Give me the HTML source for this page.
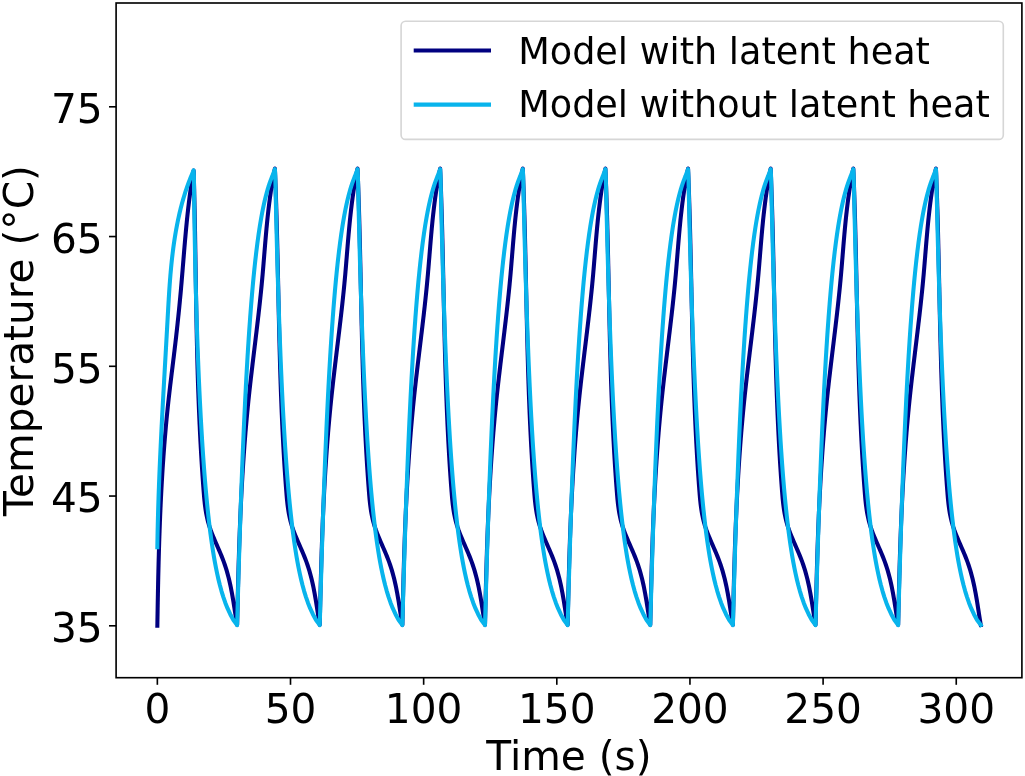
<!DOCTYPE html>
<html><head><meta charset="utf-8"><style>
html,body{margin:0;padding:0;background:#fff;}
body{width:1025px;height:776px;overflow:hidden;}
svg{display:block;}
text{font-family:"DejaVu Sans","Liberation Sans",sans-serif;fill:#000;}
.tk{font-size:40.65px;}
.lb{font-size:40.65px;}
.lg{font-size:36.6px;}
</style></head><body>
<svg width="1025" height="776" viewBox="0 0 1025 776">
<rect width="1025" height="776" fill="#fff"/>
<polyline points="157.35,625.80 157.40,622.94 157.44,620.07 157.49,617.21 157.54,614.35 157.59,611.49 157.64,608.62 157.69,605.76 157.74,602.90 157.79,600.03 157.84,597.17 157.90,594.31 157.95,591.45 158.01,588.58 158.07,585.72 158.13,582.86 158.19,579.99 158.25,577.13 158.32,574.27 158.39,571.41 158.46,568.54 158.53,565.68 158.60,562.82 158.67,559.95 158.75,557.09 158.83,554.23 158.91,551.36 159.00,548.50 159.08,545.64 159.17,542.78 159.26,539.91 159.36,537.05 159.46,534.19 159.56,531.32 159.66,528.46 159.77,525.60 159.88,522.74 159.99,519.87 160.10,517.01 160.22,514.15 160.35,511.28 160.47,508.42 160.60,505.56 160.73,502.70 160.87,499.83 161.01,496.97 161.16,494.11 161.31,491.24 161.46,488.38 161.61,485.52 161.78,482.66 161.94,479.79 162.11,476.93 162.28,474.07 162.46,471.20 162.64,468.34 162.83,465.48 163.02,462.62 163.22,459.75 163.42,456.89 163.63,454.03 163.84,451.16 164.06,448.30 164.28,445.44 164.51,442.57 164.74,439.71 164.97,436.85 165.22,433.99 165.47,431.12 165.72,428.26 165.98,425.40 166.25,422.53 166.52,419.67 166.79,416.81 167.08,413.95 167.37,411.08 167.66,408.22 167.96,405.36 168.27,402.49 168.59,399.63 168.91,396.77 169.23,393.91 169.57,391.04 169.90,388.18 170.24,385.32 170.59,382.45 170.94,379.59 171.29,376.73 171.64,373.87 171.99,371.00 172.34,368.14 172.70,365.28 173.05,362.41 173.40,359.55 173.76,356.69 174.10,353.83 174.45,350.96 174.79,348.10 175.13,345.24 175.47,342.37 175.80,339.51 176.13,336.65 176.45,333.78 176.77,330.92 177.09,328.06 177.40,325.20 177.71,322.33 178.01,319.47 178.31,316.61 178.61,313.74 178.90,310.88 179.19,308.02 179.47,305.16 179.75,302.29 180.02,299.43 180.29,296.57 180.56,293.70 180.82,290.84 181.07,287.98 181.32,285.12 181.57,282.25 181.81,279.39 182.05,276.53 182.29,273.66 182.53,270.80 182.76,267.94 182.99,265.08 183.23,262.21 183.46,259.35 183.70,256.49 183.93,253.62 184.17,250.76 184.41,247.90 184.65,245.04 184.90,242.17 185.14,239.31 185.40,236.45 185.66,233.58 185.92,230.72 186.19,227.86 186.47,224.99 186.75,222.13 187.04,219.27 187.34,216.41 187.64,213.54 187.96,210.68 188.28,207.82 188.62,204.95 188.96,202.09 189.32,199.23 189.69,196.37 190.07,193.50 190.46,190.64 190.87,187.78 191.28,184.91 191.72,182.05 192.16,179.19 192.63,176.33 193.11,173.46 193.60,170.60 193.68,171.47 193.76,174.34 193.84,177.21 193.92,180.08 193.99,182.95 194.07,185.82 194.14,188.69 194.21,191.56 194.27,194.43 194.34,197.30 194.40,200.17 194.47,203.05 194.53,205.92 194.59,208.79 194.65,211.66 194.70,214.53 194.76,217.40 194.81,220.27 194.87,223.14 194.92,226.01 194.97,228.88 195.02,231.75 195.07,234.62 195.12,237.49 195.16,240.36 195.21,243.23 195.26,246.10 195.30,248.97 195.35,251.84 195.40,254.71 195.44,257.58 195.48,260.45 195.53,263.32 195.57,266.19 195.62,269.07 195.66,271.94 195.70,274.81 195.75,277.68 195.79,280.55 195.84,283.42 195.88,286.29 195.93,289.16 195.97,292.03 196.02,294.90 196.07,297.77 196.11,300.64 196.16,303.51 196.21,306.38 196.26,309.25 196.31,312.12 196.36,314.99 196.41,317.86 196.46,320.73 196.52,323.60 196.57,326.47 196.63,329.34 196.69,332.22 196.75,335.09 196.81,337.96 196.87,340.83 196.94,343.70 197.00,346.57 197.07,349.44 197.14,352.31 197.21,355.18 197.28,358.05 197.36,360.92 197.43,363.79 197.51,366.66 197.59,369.53 197.67,372.40 197.76,375.27 197.85,378.14 197.94,381.01 198.03,383.88 198.12,386.75 198.22,389.62 198.32,392.49 198.43,395.36 198.53,398.24 198.64,401.11 198.75,403.98 198.86,406.85 198.98,409.72 199.10,412.59 199.22,415.46 199.35,418.33 199.47,421.20 199.60,424.07 199.74,426.94 199.87,429.81 200.01,432.68 200.16,435.55 200.30,438.42 200.45,441.29 200.60,444.16 200.76,447.03 200.92,449.90 201.08,452.77 201.25,455.64 201.42,458.51 201.59,461.38 201.77,464.26 201.95,467.13 202.14,470.00 202.33,472.87 202.53,475.74 202.72,478.61 202.93,481.48 203.13,484.35 203.34,487.22 203.56,490.09 203.78,492.96 204.02,495.83 204.27,498.70 204.56,501.57 204.88,504.44 205.24,507.31 205.66,510.18 206.14,513.05 206.69,515.92 207.32,518.79 208.03,521.66 208.83,524.53 209.74,527.41 210.74,530.28 211.82,533.15 212.96,536.02 214.16,538.89 215.39,541.76 216.64,544.63 217.90,547.50 219.16,550.37 220.39,553.24 221.58,556.11 222.72,558.98 223.80,561.85 224.81,564.72 225.75,567.59 226.63,570.46 227.46,573.33 228.23,576.20 228.96,579.07 229.64,581.94 230.27,584.81 230.88,587.68 231.44,590.55 231.98,593.43 232.50,596.30 232.99,599.17 233.46,602.04 233.92,604.91 234.37,607.78 234.82,610.65 235.26,613.52 235.71,616.39 236.16,619.26 236.62,622.13 237.10,625.00 237.17,622.13 237.23,619.26 237.30,616.39 237.36,613.52 237.43,610.65 237.50,607.78 237.57,604.91 237.63,602.04 237.70,599.17 237.77,596.30 237.85,593.43 237.92,590.55 237.99,587.68 238.07,584.81 238.14,581.94 238.22,579.07 238.30,576.20 238.38,573.33 238.46,570.46 238.54,567.59 238.62,564.72 238.71,561.85 238.80,558.98 238.89,556.11 238.98,553.24 239.07,550.37 239.17,547.50 239.27,544.63 239.37,541.76 239.47,538.89 239.57,536.02 239.68,533.15 239.79,530.28 239.90,527.41 240.01,524.53 240.13,521.66 240.25,518.79 240.37,515.92 240.50,513.05 240.63,510.18 240.76,507.31 240.89,504.44 241.03,501.57 241.17,498.70 241.31,495.83 241.46,492.96 241.61,490.09 241.77,487.22 241.93,484.35 242.09,481.48 242.25,478.61 242.42,475.74 242.60,472.87 242.77,470.00 242.95,467.13 243.14,464.26 243.33,461.38 243.52,458.51 243.72,455.64 243.92,452.77 244.13,449.90 244.34,447.03 244.55,444.16 244.77,441.29 245.00,438.42 245.23,435.55 245.46,432.68 245.70,429.81 245.95,426.94 246.20,424.07 246.45,421.20 246.71,418.33 246.98,415.46 247.25,412.59 247.52,409.72 247.80,406.85 248.09,403.98 248.38,401.11 248.68,398.24 248.99,395.36 249.29,392.49 249.61,389.62 249.93,386.75 250.25,383.88 250.57,381.01 250.90,378.14 251.24,375.27 251.57,372.40 251.91,369.53 252.25,366.66 252.59,363.79 252.94,360.92 253.29,358.05 253.63,355.18 253.98,352.31 254.33,349.44 254.68,346.57 255.03,343.70 255.38,340.83 255.72,337.96 256.07,335.09 256.42,332.22 256.76,329.34 257.10,326.47 257.44,323.60 257.78,320.73 258.11,317.86 258.45,314.99 258.77,312.12 259.10,309.25 259.42,306.38 259.73,303.51 260.04,300.64 260.35,297.77 260.65,294.90 260.95,292.03 261.24,289.16 261.52,286.29 261.80,283.42 262.07,280.55 262.33,277.68 262.59,274.81 262.84,271.94 263.08,269.07 263.33,266.19 263.56,263.32 263.80,260.45 264.04,257.58 264.27,254.71 264.50,251.84 264.74,248.97 264.97,246.10 265.21,243.23 265.45,240.36 265.70,237.49 265.95,234.62 266.21,231.75 266.47,228.88 266.74,226.01 267.02,223.14 267.30,220.27 267.60,217.40 267.91,214.53 268.23,211.66 268.56,208.79 268.90,205.92 269.26,203.05 269.63,200.17 270.01,197.30 270.42,194.43 270.84,191.56 271.27,188.69 271.73,185.82 272.20,182.95 272.70,180.08 273.22,177.21 273.76,174.34 274.32,171.47 274.90,168.60 275.02,171.47 275.13,174.34 275.24,177.21 275.35,180.08 275.45,182.95 275.56,185.82 275.66,188.69 275.76,191.56 275.85,194.43 275.95,197.30 276.04,200.17 276.13,203.05 276.22,205.92 276.31,208.79 276.39,211.66 276.48,214.53 276.56,217.40 276.64,220.27 276.72,223.14 276.80,226.01 276.87,228.88 276.95,231.75 277.02,234.62 277.09,237.49 277.16,240.36 277.23,243.23 277.30,246.10 277.37,248.97 277.43,251.84 277.50,254.71 277.57,257.58 277.63,260.45 277.69,263.32 277.76,266.19 277.82,269.07 277.88,271.94 277.95,274.81 278.01,277.68 278.07,280.55 278.13,283.42 278.19,286.29 278.25,289.16 278.31,292.03 278.37,294.90 278.44,297.77 278.50,300.64 278.56,303.51 278.62,306.38 278.68,309.25 278.75,312.12 278.81,314.99 278.87,317.86 278.94,320.73 279.00,323.60 279.07,326.47 279.14,329.34 279.21,332.22 279.27,335.09 279.34,337.96 279.41,340.83 279.49,343.70 279.56,346.57 279.63,349.44 279.71,352.31 279.79,355.18 279.87,358.05 279.95,360.92 280.03,363.79 280.11,366.66 280.20,369.53 280.29,372.40 280.37,375.27 280.47,378.14 280.56,381.01 280.65,383.88 280.75,386.75 280.85,389.62 280.95,392.49 281.05,395.36 281.16,398.24 281.27,401.11 281.38,403.98 281.49,406.85 281.61,409.72 281.73,412.59 281.85,415.46 281.98,418.33 282.10,421.20 282.23,424.07 282.37,426.94 282.50,429.81 282.64,432.68 282.79,435.55 282.93,438.42 283.08,441.29 283.23,444.16 283.39,447.03 283.55,449.90 283.71,452.77 283.88,455.64 284.05,458.51 284.22,461.38 284.40,464.26 284.58,467.13 284.77,470.00 284.96,472.87 285.16,475.74 285.35,478.61 285.56,481.48 285.76,484.35 285.97,487.22 286.19,490.09 286.41,492.96 286.65,495.83 286.90,498.70 287.19,501.57 287.51,504.44 287.87,507.31 288.29,510.18 288.77,513.05 289.32,515.92 289.95,518.79 290.66,521.66 291.46,524.53 292.37,527.41 293.37,530.28 294.45,533.15 295.59,536.02 296.79,538.89 298.02,541.76 299.27,544.63 300.53,547.50 301.79,550.37 303.02,553.24 304.21,556.11 305.35,558.98 306.43,561.85 307.44,564.72 308.38,567.59 309.26,570.46 310.09,573.33 310.86,576.20 311.59,579.07 312.27,581.94 312.90,584.81 313.51,587.68 314.07,590.55 314.61,593.43 315.13,596.30 315.62,599.17 316.09,602.04 316.55,604.91 317.00,607.78 317.45,610.65 317.89,613.52 318.34,616.39 318.79,619.26 319.25,622.13 319.73,625.00 319.80,622.13 319.86,619.26 319.93,616.39 319.99,613.52 320.06,610.65 320.13,607.78 320.20,604.91 320.26,602.04 320.33,599.17 320.40,596.30 320.48,593.43 320.55,590.55 320.62,587.68 320.70,584.81 320.77,581.94 320.85,579.07 320.93,576.20 321.01,573.33 321.09,570.46 321.17,567.59 321.25,564.72 321.34,561.85 321.43,558.98 321.52,556.11 321.61,553.24 321.70,550.37 321.80,547.50 321.90,544.63 322.00,541.76 322.10,538.89 322.20,536.02 322.31,533.15 322.42,530.28 322.53,527.41 322.64,524.53 322.76,521.66 322.88,518.79 323.00,515.92 323.13,513.05 323.26,510.18 323.39,507.31 323.52,504.44 323.66,501.57 323.80,498.70 323.94,495.83 324.09,492.96 324.24,490.09 324.40,487.22 324.56,484.35 324.72,481.48 324.88,478.61 325.05,475.74 325.23,472.87 325.40,470.00 325.58,467.13 325.77,464.26 325.96,461.38 326.15,458.51 326.35,455.64 326.55,452.77 326.76,449.90 326.97,447.03 327.18,444.16 327.40,441.29 327.63,438.42 327.86,435.55 328.09,432.68 328.33,429.81 328.58,426.94 328.83,424.07 329.08,421.20 329.34,418.33 329.61,415.46 329.88,412.59 330.15,409.72 330.43,406.85 330.72,403.98 331.01,401.11 331.31,398.24 331.62,395.36 331.92,392.49 332.24,389.62 332.56,386.75 332.88,383.88 333.20,381.01 333.53,378.14 333.87,375.27 334.20,372.40 334.54,369.53 334.88,366.66 335.22,363.79 335.57,360.92 335.92,358.05 336.26,355.18 336.61,352.31 336.96,349.44 337.31,346.57 337.66,343.70 338.01,340.83 338.35,337.96 338.70,335.09 339.05,332.22 339.39,329.34 339.73,326.47 340.07,323.60 340.41,320.73 340.74,317.86 341.08,314.99 341.40,312.12 341.73,309.25 342.05,306.38 342.36,303.51 342.67,300.64 342.98,297.77 343.28,294.90 343.58,292.03 343.87,289.16 344.15,286.29 344.43,283.42 344.70,280.55 344.96,277.68 345.22,274.81 345.47,271.94 345.71,269.07 345.96,266.19 346.19,263.32 346.43,260.45 346.67,257.58 346.90,254.71 347.13,251.84 347.37,248.97 347.60,246.10 347.84,243.23 348.08,240.36 348.33,237.49 348.58,234.62 348.84,231.75 349.10,228.88 349.37,226.01 349.65,223.14 349.93,220.27 350.23,217.40 350.54,214.53 350.86,211.66 351.19,208.79 351.53,205.92 351.89,203.05 352.26,200.17 352.64,197.30 353.05,194.43 353.47,191.56 353.90,188.69 354.36,185.82 354.83,182.95 355.33,180.08 355.85,177.21 356.39,174.34 356.95,171.47 357.53,168.60 357.65,171.47 357.76,174.34 357.87,177.21 357.98,180.08 358.08,182.95 358.19,185.82 358.29,188.69 358.39,191.56 358.48,194.43 358.58,197.30 358.67,200.17 358.76,203.05 358.85,205.92 358.94,208.79 359.02,211.66 359.11,214.53 359.19,217.40 359.27,220.27 359.35,223.14 359.43,226.01 359.50,228.88 359.58,231.75 359.65,234.62 359.72,237.49 359.79,240.36 359.86,243.23 359.93,246.10 360.00,248.97 360.06,251.84 360.13,254.71 360.20,257.58 360.26,260.45 360.32,263.32 360.39,266.19 360.45,269.07 360.51,271.94 360.58,274.81 360.64,277.68 360.70,280.55 360.76,283.42 360.82,286.29 360.88,289.16 360.94,292.03 361.00,294.90 361.07,297.77 361.13,300.64 361.19,303.51 361.25,306.38 361.31,309.25 361.38,312.12 361.44,314.99 361.50,317.86 361.57,320.73 361.63,323.60 361.70,326.47 361.77,329.34 361.84,332.22 361.90,335.09 361.97,337.96 362.04,340.83 362.12,343.70 362.19,346.57 362.26,349.44 362.34,352.31 362.42,355.18 362.50,358.05 362.58,360.92 362.66,363.79 362.74,366.66 362.83,369.53 362.92,372.40 363.00,375.27 363.10,378.14 363.19,381.01 363.28,383.88 363.38,386.75 363.48,389.62 363.58,392.49 363.68,395.36 363.79,398.24 363.90,401.11 364.01,403.98 364.12,406.85 364.24,409.72 364.36,412.59 364.48,415.46 364.61,418.33 364.73,421.20 364.86,424.07 365.00,426.94 365.13,429.81 365.27,432.68 365.42,435.55 365.56,438.42 365.71,441.29 365.86,444.16 366.02,447.03 366.18,449.90 366.34,452.77 366.51,455.64 366.68,458.51 366.85,461.38 367.03,464.26 367.21,467.13 367.40,470.00 367.59,472.87 367.79,475.74 367.98,478.61 368.19,481.48 368.39,484.35 368.60,487.22 368.82,490.09 369.04,492.96 369.28,495.83 369.53,498.70 369.82,501.57 370.14,504.44 370.50,507.31 370.92,510.18 371.40,513.05 371.95,515.92 372.58,518.79 373.29,521.66 374.09,524.53 375.00,527.41 376.00,530.28 377.08,533.15 378.22,536.02 379.42,538.89 380.65,541.76 381.90,544.63 383.16,547.50 384.42,550.37 385.65,553.24 386.84,556.11 387.98,558.98 389.06,561.85 390.07,564.72 391.01,567.59 391.89,570.46 392.72,573.33 393.49,576.20 394.22,579.07 394.90,581.94 395.53,584.81 396.14,587.68 396.70,590.55 397.24,593.43 397.76,596.30 398.25,599.17 398.72,602.04 399.18,604.91 399.63,607.78 400.08,610.65 400.52,613.52 400.97,616.39 401.42,619.26 401.88,622.13 402.36,625.00 402.43,622.13 402.49,619.26 402.56,616.39 402.62,613.52 402.69,610.65 402.76,607.78 402.83,604.91 402.89,602.04 402.96,599.17 403.03,596.30 403.11,593.43 403.18,590.55 403.25,587.68 403.33,584.81 403.40,581.94 403.48,579.07 403.56,576.20 403.64,573.33 403.72,570.46 403.80,567.59 403.88,564.72 403.97,561.85 404.06,558.98 404.15,556.11 404.24,553.24 404.33,550.37 404.43,547.50 404.53,544.63 404.63,541.76 404.73,538.89 404.83,536.02 404.94,533.15 405.05,530.28 405.16,527.41 405.27,524.53 405.39,521.66 405.51,518.79 405.63,515.92 405.76,513.05 405.89,510.18 406.02,507.31 406.15,504.44 406.29,501.57 406.43,498.70 406.57,495.83 406.72,492.96 406.87,490.09 407.03,487.22 407.19,484.35 407.35,481.48 407.51,478.61 407.68,475.74 407.86,472.87 408.03,470.00 408.21,467.13 408.40,464.26 408.59,461.38 408.78,458.51 408.98,455.64 409.18,452.77 409.39,449.90 409.60,447.03 409.81,444.16 410.03,441.29 410.26,438.42 410.49,435.55 410.72,432.68 410.96,429.81 411.21,426.94 411.46,424.07 411.71,421.20 411.97,418.33 412.24,415.46 412.51,412.59 412.78,409.72 413.06,406.85 413.35,403.98 413.64,401.11 413.94,398.24 414.25,395.36 414.55,392.49 414.87,389.62 415.19,386.75 415.51,383.88 415.83,381.01 416.16,378.14 416.50,375.27 416.83,372.40 417.17,369.53 417.51,366.66 417.85,363.79 418.20,360.92 418.55,358.05 418.89,355.18 419.24,352.31 419.59,349.44 419.94,346.57 420.29,343.70 420.64,340.83 420.98,337.96 421.33,335.09 421.68,332.22 422.02,329.34 422.36,326.47 422.70,323.60 423.04,320.73 423.37,317.86 423.71,314.99 424.03,312.12 424.36,309.25 424.68,306.38 424.99,303.51 425.30,300.64 425.61,297.77 425.91,294.90 426.21,292.03 426.50,289.16 426.78,286.29 427.06,283.42 427.33,280.55 427.59,277.68 427.85,274.81 428.10,271.94 428.34,269.07 428.59,266.19 428.82,263.32 429.06,260.45 429.30,257.58 429.53,254.71 429.76,251.84 430.00,248.97 430.23,246.10 430.47,243.23 430.71,240.36 430.96,237.49 431.21,234.62 431.47,231.75 431.73,228.88 432.00,226.01 432.28,223.14 432.56,220.27 432.86,217.40 433.17,214.53 433.49,211.66 433.82,208.79 434.16,205.92 434.52,203.05 434.89,200.17 435.27,197.30 435.68,194.43 436.10,191.56 436.53,188.69 436.99,185.82 437.46,182.95 437.96,180.08 438.48,177.21 439.02,174.34 439.58,171.47 440.16,168.60 440.28,171.47 440.39,174.34 440.50,177.21 440.61,180.08 440.71,182.95 440.82,185.82 440.92,188.69 441.02,191.56 441.11,194.43 441.21,197.30 441.30,200.17 441.39,203.05 441.48,205.92 441.57,208.79 441.65,211.66 441.74,214.53 441.82,217.40 441.90,220.27 441.98,223.14 442.06,226.01 442.13,228.88 442.21,231.75 442.28,234.62 442.35,237.49 442.42,240.36 442.49,243.23 442.56,246.10 442.63,248.97 442.69,251.84 442.76,254.71 442.83,257.58 442.89,260.45 442.95,263.32 443.02,266.19 443.08,269.07 443.14,271.94 443.21,274.81 443.27,277.68 443.33,280.55 443.39,283.42 443.45,286.29 443.51,289.16 443.57,292.03 443.63,294.90 443.70,297.77 443.76,300.64 443.82,303.51 443.88,306.38 443.94,309.25 444.01,312.12 444.07,314.99 444.13,317.86 444.20,320.73 444.26,323.60 444.33,326.47 444.40,329.34 444.47,332.22 444.53,335.09 444.60,337.96 444.67,340.83 444.75,343.70 444.82,346.57 444.89,349.44 444.97,352.31 445.05,355.18 445.13,358.05 445.21,360.92 445.29,363.79 445.37,366.66 445.46,369.53 445.55,372.40 445.63,375.27 445.73,378.14 445.82,381.01 445.91,383.88 446.01,386.75 446.11,389.62 446.21,392.49 446.31,395.36 446.42,398.24 446.53,401.11 446.64,403.98 446.75,406.85 446.87,409.72 446.99,412.59 447.11,415.46 447.24,418.33 447.36,421.20 447.49,424.07 447.63,426.94 447.76,429.81 447.90,432.68 448.05,435.55 448.19,438.42 448.34,441.29 448.49,444.16 448.65,447.03 448.81,449.90 448.97,452.77 449.14,455.64 449.31,458.51 449.48,461.38 449.66,464.26 449.84,467.13 450.03,470.00 450.22,472.87 450.42,475.74 450.61,478.61 450.82,481.48 451.02,484.35 451.23,487.22 451.45,490.09 451.67,492.96 451.91,495.83 452.16,498.70 452.45,501.57 452.77,504.44 453.13,507.31 453.55,510.18 454.03,513.05 454.58,515.92 455.21,518.79 455.92,521.66 456.72,524.53 457.63,527.41 458.63,530.28 459.71,533.15 460.85,536.02 462.05,538.89 463.28,541.76 464.53,544.63 465.79,547.50 467.05,550.37 468.28,553.24 469.47,556.11 470.61,558.98 471.69,561.85 472.70,564.72 473.64,567.59 474.52,570.46 475.35,573.33 476.12,576.20 476.85,579.07 477.53,581.94 478.16,584.81 478.77,587.68 479.33,590.55 479.87,593.43 480.39,596.30 480.88,599.17 481.35,602.04 481.81,604.91 482.26,607.78 482.71,610.65 483.15,613.52 483.60,616.39 484.05,619.26 484.51,622.13 484.99,625.00 485.06,622.13 485.12,619.26 485.19,616.39 485.25,613.52 485.32,610.65 485.39,607.78 485.46,604.91 485.52,602.04 485.59,599.17 485.66,596.30 485.74,593.43 485.81,590.55 485.88,587.68 485.96,584.81 486.03,581.94 486.11,579.07 486.19,576.20 486.27,573.33 486.35,570.46 486.43,567.59 486.51,564.72 486.60,561.85 486.69,558.98 486.78,556.11 486.87,553.24 486.96,550.37 487.06,547.50 487.16,544.63 487.26,541.76 487.36,538.89 487.46,536.02 487.57,533.15 487.68,530.28 487.79,527.41 487.90,524.53 488.02,521.66 488.14,518.79 488.26,515.92 488.39,513.05 488.52,510.18 488.65,507.31 488.78,504.44 488.92,501.57 489.06,498.70 489.20,495.83 489.35,492.96 489.50,490.09 489.66,487.22 489.82,484.35 489.98,481.48 490.14,478.61 490.31,475.74 490.49,472.87 490.66,470.00 490.84,467.13 491.03,464.26 491.22,461.38 491.41,458.51 491.61,455.64 491.81,452.77 492.02,449.90 492.23,447.03 492.44,444.16 492.66,441.29 492.89,438.42 493.12,435.55 493.35,432.68 493.59,429.81 493.84,426.94 494.09,424.07 494.34,421.20 494.60,418.33 494.87,415.46 495.14,412.59 495.41,409.72 495.69,406.85 495.98,403.98 496.27,401.11 496.57,398.24 496.88,395.36 497.18,392.49 497.50,389.62 497.82,386.75 498.14,383.88 498.46,381.01 498.79,378.14 499.13,375.27 499.46,372.40 499.80,369.53 500.14,366.66 500.48,363.79 500.83,360.92 501.18,358.05 501.52,355.18 501.87,352.31 502.22,349.44 502.57,346.57 502.92,343.70 503.27,340.83 503.61,337.96 503.96,335.09 504.31,332.22 504.65,329.34 504.99,326.47 505.33,323.60 505.67,320.73 506.00,317.86 506.34,314.99 506.66,312.12 506.99,309.25 507.31,306.38 507.62,303.51 507.93,300.64 508.24,297.77 508.54,294.90 508.84,292.03 509.13,289.16 509.41,286.29 509.69,283.42 509.96,280.55 510.22,277.68 510.48,274.81 510.73,271.94 510.97,269.07 511.22,266.19 511.45,263.32 511.69,260.45 511.93,257.58 512.16,254.71 512.39,251.84 512.63,248.97 512.86,246.10 513.10,243.23 513.34,240.36 513.59,237.49 513.84,234.62 514.10,231.75 514.36,228.88 514.63,226.01 514.91,223.14 515.19,220.27 515.49,217.40 515.80,214.53 516.12,211.66 516.45,208.79 516.79,205.92 517.15,203.05 517.52,200.17 517.90,197.30 518.31,194.43 518.73,191.56 519.16,188.69 519.62,185.82 520.09,182.95 520.59,180.08 521.11,177.21 521.65,174.34 522.21,171.47 522.79,168.60 522.91,171.47 523.02,174.34 523.13,177.21 523.24,180.08 523.34,182.95 523.45,185.82 523.55,188.69 523.65,191.56 523.74,194.43 523.84,197.30 523.93,200.17 524.02,203.05 524.11,205.92 524.20,208.79 524.28,211.66 524.37,214.53 524.45,217.40 524.53,220.27 524.61,223.14 524.69,226.01 524.76,228.88 524.84,231.75 524.91,234.62 524.98,237.49 525.05,240.36 525.12,243.23 525.19,246.10 525.26,248.97 525.32,251.84 525.39,254.71 525.46,257.58 525.52,260.45 525.58,263.32 525.65,266.19 525.71,269.07 525.77,271.94 525.84,274.81 525.90,277.68 525.96,280.55 526.02,283.42 526.08,286.29 526.14,289.16 526.20,292.03 526.26,294.90 526.33,297.77 526.39,300.64 526.45,303.51 526.51,306.38 526.57,309.25 526.64,312.12 526.70,314.99 526.76,317.86 526.83,320.73 526.89,323.60 526.96,326.47 527.03,329.34 527.10,332.22 527.16,335.09 527.23,337.96 527.30,340.83 527.38,343.70 527.45,346.57 527.52,349.44 527.60,352.31 527.68,355.18 527.76,358.05 527.84,360.92 527.92,363.79 528.00,366.66 528.09,369.53 528.18,372.40 528.26,375.27 528.36,378.14 528.45,381.01 528.54,383.88 528.64,386.75 528.74,389.62 528.84,392.49 528.94,395.36 529.05,398.24 529.16,401.11 529.27,403.98 529.38,406.85 529.50,409.72 529.62,412.59 529.74,415.46 529.87,418.33 529.99,421.20 530.12,424.07 530.26,426.94 530.39,429.81 530.53,432.68 530.68,435.55 530.82,438.42 530.97,441.29 531.12,444.16 531.28,447.03 531.44,449.90 531.60,452.77 531.77,455.64 531.94,458.51 532.11,461.38 532.29,464.26 532.47,467.13 532.66,470.00 532.85,472.87 533.05,475.74 533.24,478.61 533.45,481.48 533.65,484.35 533.86,487.22 534.08,490.09 534.30,492.96 534.54,495.83 534.79,498.70 535.08,501.57 535.40,504.44 535.76,507.31 536.18,510.18 536.66,513.05 537.21,515.92 537.84,518.79 538.55,521.66 539.35,524.53 540.26,527.41 541.26,530.28 542.34,533.15 543.48,536.02 544.68,538.89 545.91,541.76 547.16,544.63 548.42,547.50 549.68,550.37 550.91,553.24 552.10,556.11 553.24,558.98 554.32,561.85 555.33,564.72 556.27,567.59 557.15,570.46 557.98,573.33 558.75,576.20 559.48,579.07 560.16,581.94 560.79,584.81 561.40,587.68 561.96,590.55 562.50,593.43 563.02,596.30 563.51,599.17 563.98,602.04 564.44,604.91 564.89,607.78 565.34,610.65 565.78,613.52 566.23,616.39 566.68,619.26 567.14,622.13 567.62,625.00 567.69,622.13 567.75,619.26 567.82,616.39 567.88,613.52 567.95,610.65 568.02,607.78 568.09,604.91 568.15,602.04 568.22,599.17 568.29,596.30 568.37,593.43 568.44,590.55 568.51,587.68 568.59,584.81 568.66,581.94 568.74,579.07 568.82,576.20 568.90,573.33 568.98,570.46 569.06,567.59 569.14,564.72 569.23,561.85 569.32,558.98 569.41,556.11 569.50,553.24 569.59,550.37 569.69,547.50 569.79,544.63 569.89,541.76 569.99,538.89 570.09,536.02 570.20,533.15 570.31,530.28 570.42,527.41 570.53,524.53 570.65,521.66 570.77,518.79 570.89,515.92 571.02,513.05 571.15,510.18 571.28,507.31 571.41,504.44 571.55,501.57 571.69,498.70 571.83,495.83 571.98,492.96 572.13,490.09 572.29,487.22 572.45,484.35 572.61,481.48 572.77,478.61 572.94,475.74 573.12,472.87 573.29,470.00 573.47,467.13 573.66,464.26 573.85,461.38 574.04,458.51 574.24,455.64 574.44,452.77 574.65,449.90 574.86,447.03 575.07,444.16 575.29,441.29 575.52,438.42 575.75,435.55 575.98,432.68 576.22,429.81 576.47,426.94 576.72,424.07 576.97,421.20 577.23,418.33 577.50,415.46 577.77,412.59 578.04,409.72 578.32,406.85 578.61,403.98 578.90,401.11 579.20,398.24 579.51,395.36 579.81,392.49 580.13,389.62 580.45,386.75 580.77,383.88 581.09,381.01 581.42,378.14 581.76,375.27 582.09,372.40 582.43,369.53 582.77,366.66 583.11,363.79 583.46,360.92 583.81,358.05 584.15,355.18 584.50,352.31 584.85,349.44 585.20,346.57 585.55,343.70 585.90,340.83 586.24,337.96 586.59,335.09 586.94,332.22 587.28,329.34 587.62,326.47 587.96,323.60 588.30,320.73 588.63,317.86 588.97,314.99 589.29,312.12 589.62,309.25 589.94,306.38 590.25,303.51 590.56,300.64 590.87,297.77 591.17,294.90 591.47,292.03 591.76,289.16 592.04,286.29 592.32,283.42 592.59,280.55 592.85,277.68 593.11,274.81 593.36,271.94 593.60,269.07 593.85,266.19 594.08,263.32 594.32,260.45 594.56,257.58 594.79,254.71 595.02,251.84 595.26,248.97 595.49,246.10 595.73,243.23 595.97,240.36 596.22,237.49 596.47,234.62 596.73,231.75 596.99,228.88 597.26,226.01 597.54,223.14 597.82,220.27 598.12,217.40 598.43,214.53 598.75,211.66 599.08,208.79 599.42,205.92 599.78,203.05 600.15,200.17 600.53,197.30 600.94,194.43 601.36,191.56 601.79,188.69 602.25,185.82 602.72,182.95 603.22,180.08 603.74,177.21 604.28,174.34 604.84,171.47 605.42,168.60 605.54,171.47 605.65,174.34 605.76,177.21 605.87,180.08 605.97,182.95 606.08,185.82 606.18,188.69 606.28,191.56 606.37,194.43 606.47,197.30 606.56,200.17 606.65,203.05 606.74,205.92 606.83,208.79 606.91,211.66 607.00,214.53 607.08,217.40 607.16,220.27 607.24,223.14 607.32,226.01 607.39,228.88 607.47,231.75 607.54,234.62 607.61,237.49 607.68,240.36 607.75,243.23 607.82,246.10 607.89,248.97 607.95,251.84 608.02,254.71 608.09,257.58 608.15,260.45 608.21,263.32 608.28,266.19 608.34,269.07 608.40,271.94 608.47,274.81 608.53,277.68 608.59,280.55 608.65,283.42 608.71,286.29 608.77,289.16 608.83,292.03 608.89,294.90 608.96,297.77 609.02,300.64 609.08,303.51 609.14,306.38 609.20,309.25 609.27,312.12 609.33,314.99 609.39,317.86 609.46,320.73 609.52,323.60 609.59,326.47 609.66,329.34 609.73,332.22 609.79,335.09 609.86,337.96 609.93,340.83 610.01,343.70 610.08,346.57 610.15,349.44 610.23,352.31 610.31,355.18 610.39,358.05 610.47,360.92 610.55,363.79 610.63,366.66 610.72,369.53 610.81,372.40 610.89,375.27 610.99,378.14 611.08,381.01 611.17,383.88 611.27,386.75 611.37,389.62 611.47,392.49 611.57,395.36 611.68,398.24 611.79,401.11 611.90,403.98 612.01,406.85 612.13,409.72 612.25,412.59 612.37,415.46 612.50,418.33 612.62,421.20 612.75,424.07 612.89,426.94 613.02,429.81 613.16,432.68 613.31,435.55 613.45,438.42 613.60,441.29 613.75,444.16 613.91,447.03 614.07,449.90 614.23,452.77 614.40,455.64 614.57,458.51 614.74,461.38 614.92,464.26 615.10,467.13 615.29,470.00 615.48,472.87 615.68,475.74 615.87,478.61 616.08,481.48 616.28,484.35 616.49,487.22 616.71,490.09 616.93,492.96 617.17,495.83 617.42,498.70 617.71,501.57 618.03,504.44 618.39,507.31 618.81,510.18 619.29,513.05 619.84,515.92 620.47,518.79 621.18,521.66 621.98,524.53 622.89,527.41 623.89,530.28 624.97,533.15 626.11,536.02 627.31,538.89 628.54,541.76 629.79,544.63 631.05,547.50 632.31,550.37 633.54,553.24 634.73,556.11 635.87,558.98 636.95,561.85 637.96,564.72 638.90,567.59 639.78,570.46 640.61,573.33 641.38,576.20 642.11,579.07 642.79,581.94 643.42,584.81 644.03,587.68 644.59,590.55 645.13,593.43 645.65,596.30 646.14,599.17 646.61,602.04 647.07,604.91 647.52,607.78 647.97,610.65 648.41,613.52 648.86,616.39 649.31,619.26 649.77,622.13 650.25,625.00 650.32,622.13 650.38,619.26 650.45,616.39 650.51,613.52 650.58,610.65 650.65,607.78 650.72,604.91 650.78,602.04 650.85,599.17 650.92,596.30 651.00,593.43 651.07,590.55 651.14,587.68 651.22,584.81 651.29,581.94 651.37,579.07 651.45,576.20 651.53,573.33 651.61,570.46 651.69,567.59 651.77,564.72 651.86,561.85 651.95,558.98 652.04,556.11 652.13,553.24 652.22,550.37 652.32,547.50 652.42,544.63 652.52,541.76 652.62,538.89 652.72,536.02 652.83,533.15 652.94,530.28 653.05,527.41 653.16,524.53 653.28,521.66 653.40,518.79 653.52,515.92 653.65,513.05 653.78,510.18 653.91,507.31 654.04,504.44 654.18,501.57 654.32,498.70 654.46,495.83 654.61,492.96 654.76,490.09 654.92,487.22 655.08,484.35 655.24,481.48 655.40,478.61 655.57,475.74 655.75,472.87 655.92,470.00 656.10,467.13 656.29,464.26 656.48,461.38 656.67,458.51 656.87,455.64 657.07,452.77 657.28,449.90 657.49,447.03 657.70,444.16 657.92,441.29 658.15,438.42 658.38,435.55 658.61,432.68 658.85,429.81 659.10,426.94 659.35,424.07 659.60,421.20 659.86,418.33 660.13,415.46 660.40,412.59 660.67,409.72 660.95,406.85 661.24,403.98 661.53,401.11 661.83,398.24 662.14,395.36 662.44,392.49 662.76,389.62 663.08,386.75 663.40,383.88 663.72,381.01 664.05,378.14 664.39,375.27 664.72,372.40 665.06,369.53 665.40,366.66 665.74,363.79 666.09,360.92 666.44,358.05 666.78,355.18 667.13,352.31 667.48,349.44 667.83,346.57 668.18,343.70 668.53,340.83 668.87,337.96 669.22,335.09 669.57,332.22 669.91,329.34 670.25,326.47 670.59,323.60 670.93,320.73 671.26,317.86 671.60,314.99 671.92,312.12 672.25,309.25 672.57,306.38 672.88,303.51 673.19,300.64 673.50,297.77 673.80,294.90 674.10,292.03 674.39,289.16 674.67,286.29 674.95,283.42 675.22,280.55 675.48,277.68 675.74,274.81 675.99,271.94 676.23,269.07 676.48,266.19 676.71,263.32 676.95,260.45 677.19,257.58 677.42,254.71 677.65,251.84 677.89,248.97 678.12,246.10 678.36,243.23 678.60,240.36 678.85,237.49 679.10,234.62 679.36,231.75 679.62,228.88 679.89,226.01 680.17,223.14 680.45,220.27 680.75,217.40 681.06,214.53 681.38,211.66 681.71,208.79 682.05,205.92 682.41,203.05 682.78,200.17 683.16,197.30 683.57,194.43 683.99,191.56 684.42,188.69 684.88,185.82 685.35,182.95 685.85,180.08 686.37,177.21 686.91,174.34 687.47,171.47 688.05,168.60 688.17,171.47 688.28,174.34 688.39,177.21 688.50,180.08 688.60,182.95 688.71,185.82 688.81,188.69 688.91,191.56 689.00,194.43 689.10,197.30 689.19,200.17 689.28,203.05 689.37,205.92 689.46,208.79 689.54,211.66 689.63,214.53 689.71,217.40 689.79,220.27 689.87,223.14 689.95,226.01 690.02,228.88 690.10,231.75 690.17,234.62 690.24,237.49 690.31,240.36 690.38,243.23 690.45,246.10 690.52,248.97 690.58,251.84 690.65,254.71 690.72,257.58 690.78,260.45 690.84,263.32 690.91,266.19 690.97,269.07 691.03,271.94 691.10,274.81 691.16,277.68 691.22,280.55 691.28,283.42 691.34,286.29 691.40,289.16 691.46,292.03 691.52,294.90 691.59,297.77 691.65,300.64 691.71,303.51 691.77,306.38 691.83,309.25 691.90,312.12 691.96,314.99 692.02,317.86 692.09,320.73 692.15,323.60 692.22,326.47 692.29,329.34 692.36,332.22 692.42,335.09 692.49,337.96 692.56,340.83 692.64,343.70 692.71,346.57 692.78,349.44 692.86,352.31 692.94,355.18 693.02,358.05 693.10,360.92 693.18,363.79 693.26,366.66 693.35,369.53 693.44,372.40 693.52,375.27 693.62,378.14 693.71,381.01 693.80,383.88 693.90,386.75 694.00,389.62 694.10,392.49 694.20,395.36 694.31,398.24 694.42,401.11 694.53,403.98 694.64,406.85 694.76,409.72 694.88,412.59 695.00,415.46 695.13,418.33 695.25,421.20 695.38,424.07 695.52,426.94 695.65,429.81 695.79,432.68 695.94,435.55 696.08,438.42 696.23,441.29 696.38,444.16 696.54,447.03 696.70,449.90 696.86,452.77 697.03,455.64 697.20,458.51 697.37,461.38 697.55,464.26 697.73,467.13 697.92,470.00 698.11,472.87 698.31,475.74 698.50,478.61 698.71,481.48 698.91,484.35 699.12,487.22 699.34,490.09 699.56,492.96 699.80,495.83 700.05,498.70 700.34,501.57 700.66,504.44 701.02,507.31 701.44,510.18 701.92,513.05 702.47,515.92 703.10,518.79 703.81,521.66 704.61,524.53 705.52,527.41 706.52,530.28 707.60,533.15 708.74,536.02 709.94,538.89 711.17,541.76 712.42,544.63 713.68,547.50 714.94,550.37 716.17,553.24 717.36,556.11 718.50,558.98 719.58,561.85 720.59,564.72 721.53,567.59 722.41,570.46 723.24,573.33 724.01,576.20 724.74,579.07 725.42,581.94 726.05,584.81 726.66,587.68 727.22,590.55 727.76,593.43 728.28,596.30 728.77,599.17 729.24,602.04 729.70,604.91 730.15,607.78 730.60,610.65 731.04,613.52 731.49,616.39 731.94,619.26 732.40,622.13 732.88,625.00 732.95,622.13 733.01,619.26 733.08,616.39 733.14,613.52 733.21,610.65 733.28,607.78 733.35,604.91 733.41,602.04 733.48,599.17 733.55,596.30 733.63,593.43 733.70,590.55 733.77,587.68 733.85,584.81 733.92,581.94 734.00,579.07 734.08,576.20 734.16,573.33 734.24,570.46 734.32,567.59 734.40,564.72 734.49,561.85 734.58,558.98 734.67,556.11 734.76,553.24 734.85,550.37 734.95,547.50 735.05,544.63 735.15,541.76 735.25,538.89 735.35,536.02 735.46,533.15 735.57,530.28 735.68,527.41 735.79,524.53 735.91,521.66 736.03,518.79 736.15,515.92 736.28,513.05 736.41,510.18 736.54,507.31 736.67,504.44 736.81,501.57 736.95,498.70 737.09,495.83 737.24,492.96 737.39,490.09 737.55,487.22 737.71,484.35 737.87,481.48 738.03,478.61 738.20,475.74 738.38,472.87 738.55,470.00 738.73,467.13 738.92,464.26 739.11,461.38 739.30,458.51 739.50,455.64 739.70,452.77 739.91,449.90 740.12,447.03 740.33,444.16 740.55,441.29 740.78,438.42 741.01,435.55 741.24,432.68 741.48,429.81 741.73,426.94 741.98,424.07 742.23,421.20 742.49,418.33 742.76,415.46 743.03,412.59 743.30,409.72 743.58,406.85 743.87,403.98 744.16,401.11 744.46,398.24 744.77,395.36 745.07,392.49 745.39,389.62 745.71,386.75 746.03,383.88 746.35,381.01 746.68,378.14 747.02,375.27 747.35,372.40 747.69,369.53 748.03,366.66 748.37,363.79 748.72,360.92 749.07,358.05 749.41,355.18 749.76,352.31 750.11,349.44 750.46,346.57 750.81,343.70 751.16,340.83 751.50,337.96 751.85,335.09 752.20,332.22 752.54,329.34 752.88,326.47 753.22,323.60 753.56,320.73 753.89,317.86 754.23,314.99 754.55,312.12 754.88,309.25 755.20,306.38 755.51,303.51 755.82,300.64 756.13,297.77 756.43,294.90 756.73,292.03 757.02,289.16 757.30,286.29 757.58,283.42 757.85,280.55 758.11,277.68 758.37,274.81 758.62,271.94 758.86,269.07 759.11,266.19 759.34,263.32 759.58,260.45 759.82,257.58 760.05,254.71 760.28,251.84 760.52,248.97 760.75,246.10 760.99,243.23 761.23,240.36 761.48,237.49 761.73,234.62 761.99,231.75 762.25,228.88 762.52,226.01 762.80,223.14 763.08,220.27 763.38,217.40 763.69,214.53 764.01,211.66 764.34,208.79 764.68,205.92 765.04,203.05 765.41,200.17 765.79,197.30 766.20,194.43 766.62,191.56 767.05,188.69 767.51,185.82 767.98,182.95 768.48,180.08 769.00,177.21 769.54,174.34 770.10,171.47 770.68,168.60 770.80,171.47 770.91,174.34 771.02,177.21 771.13,180.08 771.23,182.95 771.34,185.82 771.44,188.69 771.54,191.56 771.63,194.43 771.73,197.30 771.82,200.17 771.91,203.05 772.00,205.92 772.09,208.79 772.17,211.66 772.26,214.53 772.34,217.40 772.42,220.27 772.50,223.14 772.58,226.01 772.65,228.88 772.73,231.75 772.80,234.62 772.87,237.49 772.94,240.36 773.01,243.23 773.08,246.10 773.15,248.97 773.21,251.84 773.28,254.71 773.35,257.58 773.41,260.45 773.47,263.32 773.54,266.19 773.60,269.07 773.66,271.94 773.73,274.81 773.79,277.68 773.85,280.55 773.91,283.42 773.97,286.29 774.03,289.16 774.09,292.03 774.15,294.90 774.22,297.77 774.28,300.64 774.34,303.51 774.40,306.38 774.46,309.25 774.53,312.12 774.59,314.99 774.65,317.86 774.72,320.73 774.78,323.60 774.85,326.47 774.92,329.34 774.99,332.22 775.05,335.09 775.12,337.96 775.19,340.83 775.27,343.70 775.34,346.57 775.41,349.44 775.49,352.31 775.57,355.18 775.65,358.05 775.73,360.92 775.81,363.79 775.89,366.66 775.98,369.53 776.07,372.40 776.15,375.27 776.25,378.14 776.34,381.01 776.43,383.88 776.53,386.75 776.63,389.62 776.73,392.49 776.83,395.36 776.94,398.24 777.05,401.11 777.16,403.98 777.27,406.85 777.39,409.72 777.51,412.59 777.63,415.46 777.76,418.33 777.88,421.20 778.01,424.07 778.15,426.94 778.28,429.81 778.42,432.68 778.57,435.55 778.71,438.42 778.86,441.29 779.01,444.16 779.17,447.03 779.33,449.90 779.49,452.77 779.66,455.64 779.83,458.51 780.00,461.38 780.18,464.26 780.36,467.13 780.55,470.00 780.74,472.87 780.94,475.74 781.13,478.61 781.34,481.48 781.54,484.35 781.75,487.22 781.97,490.09 782.19,492.96 782.43,495.83 782.68,498.70 782.97,501.57 783.29,504.44 783.65,507.31 784.07,510.18 784.55,513.05 785.10,515.92 785.73,518.79 786.44,521.66 787.24,524.53 788.15,527.41 789.15,530.28 790.23,533.15 791.37,536.02 792.57,538.89 793.80,541.76 795.05,544.63 796.31,547.50 797.57,550.37 798.80,553.24 799.99,556.11 801.13,558.98 802.21,561.85 803.22,564.72 804.16,567.59 805.04,570.46 805.87,573.33 806.64,576.20 807.37,579.07 808.05,581.94 808.68,584.81 809.29,587.68 809.85,590.55 810.39,593.43 810.91,596.30 811.40,599.17 811.87,602.04 812.33,604.91 812.78,607.78 813.23,610.65 813.67,613.52 814.12,616.39 814.57,619.26 815.03,622.13 815.51,625.00 815.58,622.13 815.64,619.26 815.71,616.39 815.77,613.52 815.84,610.65 815.91,607.78 815.98,604.91 816.04,602.04 816.11,599.17 816.18,596.30 816.26,593.43 816.33,590.55 816.40,587.68 816.48,584.81 816.55,581.94 816.63,579.07 816.71,576.20 816.79,573.33 816.87,570.46 816.95,567.59 817.03,564.72 817.12,561.85 817.21,558.98 817.30,556.11 817.39,553.24 817.48,550.37 817.58,547.50 817.68,544.63 817.78,541.76 817.88,538.89 817.98,536.02 818.09,533.15 818.20,530.28 818.31,527.41 818.42,524.53 818.54,521.66 818.66,518.79 818.78,515.92 818.91,513.05 819.04,510.18 819.17,507.31 819.30,504.44 819.44,501.57 819.58,498.70 819.72,495.83 819.87,492.96 820.02,490.09 820.18,487.22 820.34,484.35 820.50,481.48 820.66,478.61 820.83,475.74 821.01,472.87 821.18,470.00 821.36,467.13 821.55,464.26 821.74,461.38 821.93,458.51 822.13,455.64 822.33,452.77 822.54,449.90 822.75,447.03 822.96,444.16 823.18,441.29 823.41,438.42 823.64,435.55 823.87,432.68 824.11,429.81 824.36,426.94 824.61,424.07 824.86,421.20 825.12,418.33 825.39,415.46 825.66,412.59 825.93,409.72 826.21,406.85 826.50,403.98 826.79,401.11 827.09,398.24 827.40,395.36 827.70,392.49 828.02,389.62 828.34,386.75 828.66,383.88 828.98,381.01 829.31,378.14 829.65,375.27 829.98,372.40 830.32,369.53 830.66,366.66 831.00,363.79 831.35,360.92 831.70,358.05 832.04,355.18 832.39,352.31 832.74,349.44 833.09,346.57 833.44,343.70 833.79,340.83 834.13,337.96 834.48,335.09 834.83,332.22 835.17,329.34 835.51,326.47 835.85,323.60 836.19,320.73 836.52,317.86 836.86,314.99 837.18,312.12 837.51,309.25 837.83,306.38 838.14,303.51 838.45,300.64 838.76,297.77 839.06,294.90 839.36,292.03 839.65,289.16 839.93,286.29 840.21,283.42 840.48,280.55 840.74,277.68 841.00,274.81 841.25,271.94 841.49,269.07 841.74,266.19 841.97,263.32 842.21,260.45 842.45,257.58 842.68,254.71 842.91,251.84 843.15,248.97 843.38,246.10 843.62,243.23 843.86,240.36 844.11,237.49 844.36,234.62 844.62,231.75 844.88,228.88 845.15,226.01 845.43,223.14 845.71,220.27 846.01,217.40 846.32,214.53 846.64,211.66 846.97,208.79 847.31,205.92 847.67,203.05 848.04,200.17 848.42,197.30 848.83,194.43 849.25,191.56 849.68,188.69 850.14,185.82 850.61,182.95 851.11,180.08 851.63,177.21 852.17,174.34 852.73,171.47 853.31,168.60 853.43,171.47 853.54,174.34 853.65,177.21 853.76,180.08 853.86,182.95 853.97,185.82 854.07,188.69 854.17,191.56 854.26,194.43 854.36,197.30 854.45,200.17 854.54,203.05 854.63,205.92 854.72,208.79 854.80,211.66 854.89,214.53 854.97,217.40 855.05,220.27 855.13,223.14 855.21,226.01 855.28,228.88 855.36,231.75 855.43,234.62 855.50,237.49 855.57,240.36 855.64,243.23 855.71,246.10 855.78,248.97 855.84,251.84 855.91,254.71 855.98,257.58 856.04,260.45 856.10,263.32 856.17,266.19 856.23,269.07 856.29,271.94 856.36,274.81 856.42,277.68 856.48,280.55 856.54,283.42 856.60,286.29 856.66,289.16 856.72,292.03 856.78,294.90 856.85,297.77 856.91,300.64 856.97,303.51 857.03,306.38 857.09,309.25 857.16,312.12 857.22,314.99 857.28,317.86 857.35,320.73 857.41,323.60 857.48,326.47 857.55,329.34 857.62,332.22 857.68,335.09 857.75,337.96 857.82,340.83 857.90,343.70 857.97,346.57 858.04,349.44 858.12,352.31 858.20,355.18 858.28,358.05 858.36,360.92 858.44,363.79 858.52,366.66 858.61,369.53 858.70,372.40 858.78,375.27 858.88,378.14 858.97,381.01 859.06,383.88 859.16,386.75 859.26,389.62 859.36,392.49 859.46,395.36 859.57,398.24 859.68,401.11 859.79,403.98 859.90,406.85 860.02,409.72 860.14,412.59 860.26,415.46 860.39,418.33 860.51,421.20 860.64,424.07 860.78,426.94 860.91,429.81 861.05,432.68 861.20,435.55 861.34,438.42 861.49,441.29 861.64,444.16 861.80,447.03 861.96,449.90 862.12,452.77 862.29,455.64 862.46,458.51 862.63,461.38 862.81,464.26 862.99,467.13 863.18,470.00 863.37,472.87 863.57,475.74 863.76,478.61 863.97,481.48 864.17,484.35 864.38,487.22 864.60,490.09 864.82,492.96 865.06,495.83 865.31,498.70 865.60,501.57 865.92,504.44 866.28,507.31 866.70,510.18 867.18,513.05 867.73,515.92 868.36,518.79 869.07,521.66 869.87,524.53 870.78,527.41 871.78,530.28 872.86,533.15 874.00,536.02 875.20,538.89 876.43,541.76 877.68,544.63 878.94,547.50 880.20,550.37 881.43,553.24 882.62,556.11 883.76,558.98 884.84,561.85 885.85,564.72 886.79,567.59 887.67,570.46 888.50,573.33 889.27,576.20 890.00,579.07 890.68,581.94 891.31,584.81 891.92,587.68 892.48,590.55 893.02,593.43 893.54,596.30 894.03,599.17 894.50,602.04 894.96,604.91 895.41,607.78 895.86,610.65 896.30,613.52 896.75,616.39 897.20,619.26 897.66,622.13 898.14,625.00 898.21,622.13 898.27,619.26 898.34,616.39 898.40,613.52 898.47,610.65 898.54,607.78 898.61,604.91 898.67,602.04 898.74,599.17 898.81,596.30 898.89,593.43 898.96,590.55 899.03,587.68 899.11,584.81 899.18,581.94 899.26,579.07 899.34,576.20 899.42,573.33 899.50,570.46 899.58,567.59 899.66,564.72 899.75,561.85 899.84,558.98 899.93,556.11 900.02,553.24 900.11,550.37 900.21,547.50 900.31,544.63 900.41,541.76 900.51,538.89 900.61,536.02 900.72,533.15 900.83,530.28 900.94,527.41 901.05,524.53 901.17,521.66 901.29,518.79 901.41,515.92 901.54,513.05 901.67,510.18 901.80,507.31 901.93,504.44 902.07,501.57 902.21,498.70 902.35,495.83 902.50,492.96 902.65,490.09 902.81,487.22 902.97,484.35 903.13,481.48 903.29,478.61 903.46,475.74 903.64,472.87 903.81,470.00 903.99,467.13 904.18,464.26 904.37,461.38 904.56,458.51 904.76,455.64 904.96,452.77 905.17,449.90 905.38,447.03 905.59,444.16 905.81,441.29 906.04,438.42 906.27,435.55 906.50,432.68 906.74,429.81 906.99,426.94 907.24,424.07 907.49,421.20 907.75,418.33 908.02,415.46 908.29,412.59 908.56,409.72 908.84,406.85 909.13,403.98 909.42,401.11 909.72,398.24 910.03,395.36 910.33,392.49 910.65,389.62 910.97,386.75 911.29,383.88 911.61,381.01 911.94,378.14 912.28,375.27 912.61,372.40 912.95,369.53 913.29,366.66 913.63,363.79 913.98,360.92 914.33,358.05 914.67,355.18 915.02,352.31 915.37,349.44 915.72,346.57 916.07,343.70 916.42,340.83 916.76,337.96 917.11,335.09 917.46,332.22 917.80,329.34 918.14,326.47 918.48,323.60 918.82,320.73 919.15,317.86 919.49,314.99 919.81,312.12 920.14,309.25 920.46,306.38 920.77,303.51 921.08,300.64 921.39,297.77 921.69,294.90 921.99,292.03 922.28,289.16 922.56,286.29 922.84,283.42 923.11,280.55 923.37,277.68 923.63,274.81 923.88,271.94 924.12,269.07 924.37,266.19 924.60,263.32 924.84,260.45 925.08,257.58 925.31,254.71 925.54,251.84 925.78,248.97 926.01,246.10 926.25,243.23 926.49,240.36 926.74,237.49 926.99,234.62 927.25,231.75 927.51,228.88 927.78,226.01 928.06,223.14 928.34,220.27 928.64,217.40 928.95,214.53 929.27,211.66 929.60,208.79 929.94,205.92 930.30,203.05 930.67,200.17 931.05,197.30 931.46,194.43 931.88,191.56 932.31,188.69 932.77,185.82 933.24,182.95 933.74,180.08 934.26,177.21 934.80,174.34 935.36,171.47 935.94,168.60 936.06,171.47 936.17,174.34 936.28,177.21 936.39,180.08 936.49,182.95 936.60,185.82 936.70,188.69 936.80,191.56 936.89,194.43 936.99,197.30 937.08,200.17 937.17,203.05 937.26,205.92 937.35,208.79 937.43,211.66 937.52,214.53 937.60,217.40 937.68,220.27 937.76,223.14 937.84,226.01 937.91,228.88 937.99,231.75 938.06,234.62 938.13,237.49 938.20,240.36 938.27,243.23 938.34,246.10 938.41,248.97 938.47,251.84 938.54,254.71 938.61,257.58 938.67,260.45 938.73,263.32 938.80,266.19 938.86,269.07 938.92,271.94 938.99,274.81 939.05,277.68 939.11,280.55 939.17,283.42 939.23,286.29 939.29,289.16 939.35,292.03 939.41,294.90 939.48,297.77 939.54,300.64 939.60,303.51 939.66,306.38 939.72,309.25 939.79,312.12 939.85,314.99 939.91,317.86 939.98,320.73 940.04,323.60 940.11,326.47 940.18,329.34 940.25,332.22 940.31,335.09 940.38,337.96 940.45,340.83 940.53,343.70 940.60,346.57 940.67,349.44 940.75,352.31 940.83,355.18 940.91,358.05 940.99,360.92 941.07,363.79 941.15,366.66 941.24,369.53 941.33,372.40 941.41,375.27 941.51,378.14 941.60,381.01 941.69,383.88 941.79,386.75 941.89,389.62 941.99,392.49 942.09,395.36 942.20,398.24 942.31,401.11 942.42,403.98 942.53,406.85 942.65,409.72 942.77,412.59 942.89,415.46 943.02,418.33 943.14,421.20 943.27,424.07 943.41,426.94 943.54,429.81 943.68,432.68 943.83,435.55 943.97,438.42 944.12,441.29 944.27,444.16 944.43,447.03 944.59,449.90 944.75,452.77 944.92,455.64 945.09,458.51 945.26,461.38 945.44,464.26 945.62,467.13 945.81,470.00 946.00,472.87 946.20,475.74 946.39,478.61 946.60,481.48 946.80,484.35 947.01,487.22 947.23,490.09 947.45,492.96 947.69,495.83 947.94,498.70 948.23,501.57 948.55,504.44 948.91,507.31 949.33,510.18 949.81,513.05 950.36,515.92 950.99,518.79 951.70,521.66 952.50,524.53 953.41,527.41 954.41,530.28 955.49,533.15 956.63,536.02 957.83,538.89 959.06,541.76 960.31,544.63 961.57,547.50 962.83,550.37 964.06,553.24 965.25,556.11 966.39,558.98 967.47,561.85 968.48,564.72 969.42,567.59 970.30,570.46 971.13,573.33 971.90,576.20 972.63,579.07 973.31,581.94 973.94,584.81 974.55,587.68 975.11,590.55 975.65,593.43 976.17,596.30 976.66,599.17 977.13,602.04 977.59,604.91 978.04,607.78 978.49,610.65 978.93,613.52 979.38,616.39 979.83,619.26 980.29,622.13 980.77,625.00" fill="none" stroke="#000080" stroke-width="4.07" stroke-linejoin="round" stroke-linecap="square"/>
<polyline points="157.35,547.30 157.38,544.93 157.42,542.56 157.46,540.19 157.50,537.82 157.55,535.45 157.59,533.08 157.64,530.71 157.69,528.34 157.75,525.97 157.80,523.60 157.86,521.23 157.92,518.85 157.98,516.48 158.05,514.11 158.11,511.74 158.18,509.37 158.25,507.00 158.32,504.63 158.40,502.26 158.48,499.89 158.55,497.52 158.63,495.15 158.72,492.78 158.80,490.41 158.89,488.04 158.97,485.67 159.06,483.30 159.16,480.93 159.25,478.56 159.34,476.19 159.44,473.82 159.54,471.45 159.64,469.08 159.74,466.71 159.84,464.33 159.94,461.96 160.05,459.59 160.15,457.22 160.26,454.85 160.37,452.48 160.48,450.11 160.59,447.74 160.70,445.37 160.82,443.00 160.93,440.63 161.05,438.26 161.17,435.89 161.28,433.52 161.40,431.15 161.52,428.78 161.64,426.41 161.77,424.04 161.89,421.67 162.01,419.30 162.14,416.93 162.26,414.56 162.39,412.18 162.52,409.81 162.64,407.44 162.77,405.07 162.90,402.70 163.03,400.33 163.16,397.96 163.29,395.59 163.42,393.22 163.55,390.85 163.69,388.48 163.82,386.11 163.95,383.74 164.08,381.37 164.22,379.00 164.35,376.63 164.49,374.26 164.62,371.89 164.75,369.52 164.89,367.15 165.02,364.78 165.16,362.41 165.29,360.04 165.43,357.66 165.56,355.29 165.70,352.92 165.83,350.55 165.97,348.18 166.10,345.81 166.24,343.44 166.37,341.07 166.50,338.70 166.64,336.33 166.77,333.96 166.90,331.59 167.04,329.22 167.17,326.85 167.30,324.48 167.43,322.11 167.56,319.74 167.69,317.37 167.82,315.00 167.95,312.63 168.09,310.26 168.22,307.89 168.35,305.52 168.49,303.14 168.63,300.77 168.77,298.40 168.92,296.03 169.07,293.66 169.22,291.29 169.38,288.92 169.54,286.55 169.71,284.18 169.89,281.81 170.07,279.44 170.26,277.07 170.45,274.70 170.66,272.33 170.87,269.96 171.09,267.59 171.32,265.22 171.56,262.85 171.81,260.48 172.07,258.11 172.34,255.74 172.62,253.37 172.92,250.99 173.22,248.62 173.54,246.25 173.87,243.88 174.22,241.51 174.58,239.14 174.95,236.77 175.34,234.40 175.74,232.03 176.16,229.66 176.59,227.29 177.04,224.92 177.51,222.55 178.00,220.18 178.50,217.81 179.03,215.44 179.57,213.07 180.13,210.70 180.72,208.33 181.33,205.96 181.96,203.59 182.61,201.22 183.29,198.85 184.00,196.47 184.73,194.10 185.48,191.73 186.27,189.36 187.08,186.99 187.92,184.62 188.79,182.25 189.69,179.88 190.62,177.51 191.58,175.14 192.57,172.77 193.60,170.40 193.91,176.60 193.92,177.97 193.94,179.34 193.95,180.71 193.97,182.08 193.98,183.45 193.99,184.82 194.01,186.18 194.02,187.55 194.04,188.92 194.06,190.29 194.07,191.66 194.09,193.03 194.10,194.40 194.12,195.77 194.14,197.14 194.15,198.51 194.17,199.88 194.19,201.25 194.21,202.62 194.22,203.98 194.24,205.35 194.26,206.72 194.28,208.09 194.30,209.46 194.32,210.83 194.34,212.20 194.36,213.57 194.38,214.94 194.40,216.31 194.42,217.68 194.44,219.05 194.46,220.42 194.48,221.78 194.50,223.15 194.52,224.52 194.54,225.89 194.56,227.26 194.59,228.63 194.61,230.00 194.68,234.36 194.76,238.72 194.84,243.08 194.92,247.44 195.00,251.79 195.09,256.15 195.17,260.51 195.27,264.87 195.36,269.23 195.46,273.59 195.56,277.95 195.66,282.31 195.77,286.67 195.88,291.03 195.99,295.38 196.11,299.74 196.23,304.10 196.35,308.46 196.47,312.82 196.60,317.18 196.74,321.54 196.87,325.90 197.01,330.26 197.16,334.62 197.31,338.97 197.46,343.33 197.61,347.69 197.78,352.05 197.94,356.41 198.11,360.77 198.28,365.13 198.46,369.49 198.65,373.85 198.83,378.21 199.03,382.56 199.23,386.92 199.43,391.28 199.64,395.64 199.85,400.00 200.15,405.79 200.45,411.58 200.76,417.37 201.09,423.16 201.42,428.95 201.77,434.74 202.12,440.53 202.50,446.32 202.88,452.11 203.28,457.90 203.69,463.69 204.12,469.48 204.57,475.27 205.04,481.06 205.53,486.85 206.04,492.64 206.58,498.43 207.14,504.22 207.73,510.01 208.35,515.79 209.00,521.58 209.69,527.37 210.42,533.16 211.20,538.95 212.03,544.74 212.91,550.53 213.86,556.32 214.88,562.11 215.98,567.90 217.17,573.69 218.48,579.48 219.91,585.27 221.50,591.06 223.28,596.85 225.28,602.64 227.57,608.43 230.24,614.22 233.39,620.01 237.10,625.00 237.26,620.01 237.42,614.22 237.57,608.43 237.73,602.64 237.90,596.85 238.06,591.06 238.23,585.27 238.40,579.48 238.57,573.69 238.74,567.90 238.91,562.11 239.09,556.32 239.27,550.53 239.46,544.74 239.64,538.95 239.83,533.16 240.02,527.37 240.22,521.58 240.41,515.79 240.61,510.01 240.82,504.22 241.02,498.43 241.23,492.64 241.45,486.85 241.67,481.06 241.89,475.27 242.11,469.48 242.34,463.69 242.57,457.90 242.81,452.11 243.06,446.32 243.30,440.53 243.55,434.74 243.81,428.95 244.07,423.16 244.34,417.37 244.62,411.58 244.90,405.79 245.18,400.00 245.40,395.64 245.63,391.28 245.85,386.92 246.09,382.56 246.32,378.21 246.56,373.85 246.81,369.49 247.06,365.13 247.31,360.77 247.57,356.41 247.84,352.05 248.11,347.69 248.39,343.33 248.67,338.97 248.96,334.62 249.26,330.26 249.56,325.90 249.88,321.54 250.19,317.18 250.52,312.82 250.86,308.46 251.20,304.10 251.56,299.74 251.93,295.38 252.30,291.03 252.69,286.67 253.09,282.31 253.50,277.95 253.93,273.59 254.37,269.23 254.83,264.87 255.30,260.51 255.80,256.15 256.31,251.79 256.85,247.44 257.41,243.08 257.99,238.72 258.60,234.36 259.25,230.00 259.46,228.63 259.67,227.26 259.88,225.89 260.10,224.52 260.33,223.15 260.56,221.78 260.79,220.42 261.03,219.05 261.27,217.68 261.51,216.31 261.76,214.94 262.02,213.57 262.28,212.20 262.54,210.83 262.82,209.46 263.09,208.09 263.38,206.72 263.67,205.35 263.97,203.98 264.27,202.62 264.58,201.25 264.90,199.88 265.23,198.51 265.57,197.14 265.91,195.77 266.27,194.40 266.64,193.03 267.01,191.66 267.40,190.29 267.80,188.92 268.22,187.55 268.64,186.18 269.09,184.82 269.55,183.45 270.02,182.08 270.52,180.71 271.03,179.34 271.57,177.97 272.13,176.60 274.90,169.20 275.29,176.60 275.32,177.97 275.35,179.34 275.38,180.71 275.41,182.08 275.44,183.45 275.47,184.82 275.50,186.18 275.53,187.55 275.56,188.92 275.59,190.29 275.62,191.66 275.65,193.03 275.68,194.40 275.71,195.77 275.74,197.14 275.77,198.51 275.80,199.88 275.83,201.25 275.86,202.62 275.90,203.98 275.93,205.35 275.96,206.72 275.99,208.09 276.02,209.46 276.05,210.83 276.09,212.20 276.12,213.57 276.15,214.94 276.18,216.31 276.22,217.68 276.25,219.05 276.28,220.42 276.32,221.78 276.35,223.15 276.38,224.52 276.42,225.89 276.45,227.26 276.48,228.63 276.52,230.00 276.63,234.36 276.74,238.72 276.85,243.08 276.97,247.44 277.08,251.79 277.20,256.15 277.32,260.51 277.44,264.87 277.56,269.23 277.69,273.59 277.82,277.95 277.95,282.31 278.08,286.67 278.21,291.03 278.35,295.38 278.49,299.74 278.63,304.10 278.77,308.46 278.91,312.82 279.06,317.18 279.21,321.54 279.37,325.90 279.52,330.26 279.68,334.62 279.84,338.97 280.01,343.33 280.18,347.69 280.35,352.05 280.52,356.41 280.70,360.77 280.88,365.13 281.07,369.49 281.26,373.85 281.45,378.21 281.65,382.56 281.85,386.92 282.06,391.28 282.27,395.64 282.48,400.00 282.78,405.79 283.08,411.58 283.39,417.37 283.72,423.16 284.05,428.95 284.40,434.74 284.75,440.53 285.13,446.32 285.51,452.11 285.91,457.90 286.32,463.69 286.75,469.48 287.20,475.27 287.67,481.06 288.16,486.85 288.67,492.64 289.21,498.43 289.77,504.22 290.36,510.01 290.98,515.79 291.63,521.58 292.32,527.37 293.05,533.16 293.83,538.95 294.66,544.74 295.54,550.53 296.49,556.32 297.51,562.11 298.61,567.90 299.80,573.69 301.11,579.48 302.54,585.27 304.13,591.06 305.91,596.85 307.91,602.64 310.20,608.43 312.87,614.22 316.02,620.01 319.73,625.00 319.89,620.01 320.05,614.22 320.20,608.43 320.36,602.64 320.53,596.85 320.69,591.06 320.86,585.27 321.03,579.48 321.20,573.69 321.37,567.90 321.54,562.11 321.72,556.32 321.90,550.53 322.09,544.74 322.27,538.95 322.46,533.16 322.65,527.37 322.85,521.58 323.04,515.79 323.24,510.01 323.45,504.22 323.65,498.43 323.86,492.64 324.08,486.85 324.30,481.06 324.52,475.27 324.74,469.48 324.97,463.69 325.20,457.90 325.44,452.11 325.69,446.32 325.93,440.53 326.18,434.74 326.44,428.95 326.70,423.16 326.97,417.37 327.25,411.58 327.53,405.79 327.81,400.00 328.03,395.64 328.26,391.28 328.48,386.92 328.72,382.56 328.95,378.21 329.19,373.85 329.44,369.49 329.69,365.13 329.94,360.77 330.20,356.41 330.47,352.05 330.74,347.69 331.02,343.33 331.30,338.97 331.59,334.62 331.89,330.26 332.19,325.90 332.51,321.54 332.82,317.18 333.15,312.82 333.49,308.46 333.83,304.10 334.19,299.74 334.56,295.38 334.93,291.03 335.32,286.67 335.72,282.31 336.13,277.95 336.56,273.59 337.00,269.23 337.46,264.87 337.93,260.51 338.43,256.15 338.94,251.79 339.48,247.44 340.04,243.08 340.62,238.72 341.23,234.36 341.88,230.00 342.09,228.63 342.30,227.26 342.51,225.89 342.73,224.52 342.96,223.15 343.19,221.78 343.42,220.42 343.66,219.05 343.90,217.68 344.14,216.31 344.39,214.94 344.65,213.57 344.91,212.20 345.17,210.83 345.45,209.46 345.72,208.09 346.01,206.72 346.30,205.35 346.60,203.98 346.90,202.62 347.21,201.25 347.53,199.88 347.86,198.51 348.20,197.14 348.54,195.77 348.90,194.40 349.27,193.03 349.64,191.66 350.03,190.29 350.43,188.92 350.85,187.55 351.27,186.18 351.72,184.82 352.18,183.45 352.65,182.08 353.15,180.71 353.66,179.34 354.20,177.97 354.76,176.60 357.53,169.20 357.92,176.60 357.95,177.97 357.98,179.34 358.01,180.71 358.04,182.08 358.07,183.45 358.10,184.82 358.13,186.18 358.16,187.55 358.19,188.92 358.22,190.29 358.25,191.66 358.28,193.03 358.31,194.40 358.34,195.77 358.37,197.14 358.40,198.51 358.43,199.88 358.46,201.25 358.49,202.62 358.53,203.98 358.56,205.35 358.59,206.72 358.62,208.09 358.65,209.46 358.68,210.83 358.72,212.20 358.75,213.57 358.78,214.94 358.81,216.31 358.85,217.68 358.88,219.05 358.91,220.42 358.95,221.78 358.98,223.15 359.01,224.52 359.05,225.89 359.08,227.26 359.11,228.63 359.15,230.00 359.26,234.36 359.37,238.72 359.48,243.08 359.60,247.44 359.71,251.79 359.83,256.15 359.95,260.51 360.07,264.87 360.19,269.23 360.32,273.59 360.45,277.95 360.58,282.31 360.71,286.67 360.84,291.03 360.98,295.38 361.12,299.74 361.26,304.10 361.40,308.46 361.54,312.82 361.69,317.18 361.84,321.54 362.00,325.90 362.15,330.26 362.31,334.62 362.47,338.97 362.64,343.33 362.81,347.69 362.98,352.05 363.15,356.41 363.33,360.77 363.51,365.13 363.70,369.49 363.89,373.85 364.08,378.21 364.28,382.56 364.48,386.92 364.69,391.28 364.90,395.64 365.11,400.00 365.41,405.79 365.71,411.58 366.02,417.37 366.35,423.16 366.68,428.95 367.03,434.74 367.38,440.53 367.76,446.32 368.14,452.11 368.54,457.90 368.95,463.69 369.38,469.48 369.83,475.27 370.30,481.06 370.79,486.85 371.30,492.64 371.84,498.43 372.40,504.22 372.99,510.01 373.61,515.79 374.26,521.58 374.95,527.37 375.68,533.16 376.46,538.95 377.29,544.74 378.17,550.53 379.12,556.32 380.14,562.11 381.24,567.90 382.43,573.69 383.74,579.48 385.17,585.27 386.76,591.06 388.54,596.85 390.54,602.64 392.83,608.43 395.50,614.22 398.65,620.01 402.36,625.00 402.52,620.01 402.68,614.22 402.83,608.43 402.99,602.64 403.16,596.85 403.32,591.06 403.49,585.27 403.66,579.48 403.83,573.69 404.00,567.90 404.17,562.11 404.35,556.32 404.53,550.53 404.72,544.74 404.90,538.95 405.09,533.16 405.28,527.37 405.48,521.58 405.67,515.79 405.87,510.01 406.08,504.22 406.28,498.43 406.49,492.64 406.71,486.85 406.93,481.06 407.15,475.27 407.37,469.48 407.60,463.69 407.83,457.90 408.07,452.11 408.32,446.32 408.56,440.53 408.81,434.74 409.07,428.95 409.33,423.16 409.60,417.37 409.88,411.58 410.16,405.79 410.44,400.00 410.66,395.64 410.89,391.28 411.11,386.92 411.35,382.56 411.58,378.21 411.82,373.85 412.07,369.49 412.32,365.13 412.57,360.77 412.83,356.41 413.10,352.05 413.37,347.69 413.65,343.33 413.93,338.97 414.22,334.62 414.52,330.26 414.82,325.90 415.14,321.54 415.45,317.18 415.78,312.82 416.12,308.46 416.46,304.10 416.82,299.74 417.19,295.38 417.56,291.03 417.95,286.67 418.35,282.31 418.76,277.95 419.19,273.59 419.63,269.23 420.09,264.87 420.56,260.51 421.06,256.15 421.57,251.79 422.11,247.44 422.67,243.08 423.25,238.72 423.86,234.36 424.51,230.00 424.72,228.63 424.93,227.26 425.14,225.89 425.36,224.52 425.59,223.15 425.82,221.78 426.05,220.42 426.29,219.05 426.53,217.68 426.77,216.31 427.02,214.94 427.28,213.57 427.54,212.20 427.80,210.83 428.08,209.46 428.35,208.09 428.64,206.72 428.93,205.35 429.23,203.98 429.53,202.62 429.84,201.25 430.16,199.88 430.49,198.51 430.83,197.14 431.17,195.77 431.53,194.40 431.90,193.03 432.27,191.66 432.66,190.29 433.06,188.92 433.48,187.55 433.90,186.18 434.35,184.82 434.81,183.45 435.28,182.08 435.78,180.71 436.29,179.34 436.83,177.97 437.39,176.60 440.16,169.20 440.55,176.60 440.58,177.97 440.61,179.34 440.64,180.71 440.67,182.08 440.70,183.45 440.73,184.82 440.76,186.18 440.79,187.55 440.82,188.92 440.85,190.29 440.88,191.66 440.91,193.03 440.94,194.40 440.97,195.77 441.00,197.14 441.03,198.51 441.06,199.88 441.09,201.25 441.12,202.62 441.16,203.98 441.19,205.35 441.22,206.72 441.25,208.09 441.28,209.46 441.31,210.83 441.35,212.20 441.38,213.57 441.41,214.94 441.44,216.31 441.48,217.68 441.51,219.05 441.54,220.42 441.58,221.78 441.61,223.15 441.64,224.52 441.68,225.89 441.71,227.26 441.74,228.63 441.78,230.00 441.89,234.36 442.00,238.72 442.11,243.08 442.23,247.44 442.34,251.79 442.46,256.15 442.58,260.51 442.70,264.87 442.82,269.23 442.95,273.59 443.08,277.95 443.21,282.31 443.34,286.67 443.47,291.03 443.61,295.38 443.75,299.74 443.89,304.10 444.03,308.46 444.17,312.82 444.32,317.18 444.47,321.54 444.63,325.90 444.78,330.26 444.94,334.62 445.10,338.97 445.27,343.33 445.44,347.69 445.61,352.05 445.78,356.41 445.96,360.77 446.14,365.13 446.33,369.49 446.52,373.85 446.71,378.21 446.91,382.56 447.11,386.92 447.32,391.28 447.53,395.64 447.74,400.00 448.04,405.79 448.34,411.58 448.65,417.37 448.98,423.16 449.31,428.95 449.66,434.74 450.01,440.53 450.39,446.32 450.77,452.11 451.17,457.90 451.58,463.69 452.01,469.48 452.46,475.27 452.93,481.06 453.42,486.85 453.93,492.64 454.47,498.43 455.03,504.22 455.62,510.01 456.24,515.79 456.89,521.58 457.58,527.37 458.31,533.16 459.09,538.95 459.92,544.74 460.80,550.53 461.75,556.32 462.77,562.11 463.87,567.90 465.06,573.69 466.37,579.48 467.80,585.27 469.39,591.06 471.17,596.85 473.17,602.64 475.46,608.43 478.13,614.22 481.28,620.01 484.99,625.00 485.15,620.01 485.31,614.22 485.46,608.43 485.62,602.64 485.79,596.85 485.95,591.06 486.12,585.27 486.29,579.48 486.46,573.69 486.63,567.90 486.80,562.11 486.98,556.32 487.16,550.53 487.35,544.74 487.53,538.95 487.72,533.16 487.91,527.37 488.11,521.58 488.30,515.79 488.50,510.01 488.71,504.22 488.91,498.43 489.12,492.64 489.34,486.85 489.56,481.06 489.78,475.27 490.00,469.48 490.23,463.69 490.46,457.90 490.70,452.11 490.95,446.32 491.19,440.53 491.44,434.74 491.70,428.95 491.96,423.16 492.23,417.37 492.51,411.58 492.79,405.79 493.07,400.00 493.29,395.64 493.52,391.28 493.74,386.92 493.98,382.56 494.21,378.21 494.45,373.85 494.70,369.49 494.95,365.13 495.20,360.77 495.46,356.41 495.73,352.05 496.00,347.69 496.28,343.33 496.56,338.97 496.85,334.62 497.15,330.26 497.45,325.90 497.77,321.54 498.08,317.18 498.41,312.82 498.75,308.46 499.09,304.10 499.45,299.74 499.82,295.38 500.19,291.03 500.58,286.67 500.98,282.31 501.39,277.95 501.82,273.59 502.26,269.23 502.72,264.87 503.19,260.51 503.69,256.15 504.20,251.79 504.74,247.44 505.30,243.08 505.88,238.72 506.49,234.36 507.14,230.00 507.35,228.63 507.56,227.26 507.77,225.89 507.99,224.52 508.22,223.15 508.45,221.78 508.68,220.42 508.92,219.05 509.16,217.68 509.40,216.31 509.65,214.94 509.91,213.57 510.17,212.20 510.43,210.83 510.71,209.46 510.98,208.09 511.27,206.72 511.56,205.35 511.86,203.98 512.16,202.62 512.47,201.25 512.79,199.88 513.12,198.51 513.46,197.14 513.80,195.77 514.16,194.40 514.53,193.03 514.90,191.66 515.29,190.29 515.69,188.92 516.11,187.55 516.53,186.18 516.98,184.82 517.44,183.45 517.91,182.08 518.41,180.71 518.92,179.34 519.46,177.97 520.02,176.60 522.79,169.20 523.18,176.60 523.21,177.97 523.24,179.34 523.27,180.71 523.30,182.08 523.33,183.45 523.36,184.82 523.39,186.18 523.42,187.55 523.45,188.92 523.48,190.29 523.51,191.66 523.54,193.03 523.57,194.40 523.60,195.77 523.63,197.14 523.66,198.51 523.69,199.88 523.72,201.25 523.75,202.62 523.79,203.98 523.82,205.35 523.85,206.72 523.88,208.09 523.91,209.46 523.94,210.83 523.98,212.20 524.01,213.57 524.04,214.94 524.07,216.31 524.11,217.68 524.14,219.05 524.17,220.42 524.21,221.78 524.24,223.15 524.27,224.52 524.31,225.89 524.34,227.26 524.37,228.63 524.41,230.00 524.52,234.36 524.63,238.72 524.74,243.08 524.86,247.44 524.97,251.79 525.09,256.15 525.21,260.51 525.33,264.87 525.45,269.23 525.58,273.59 525.71,277.95 525.84,282.31 525.97,286.67 526.10,291.03 526.24,295.38 526.38,299.74 526.52,304.10 526.66,308.46 526.80,312.82 526.95,317.18 527.10,321.54 527.26,325.90 527.41,330.26 527.57,334.62 527.73,338.97 527.90,343.33 528.07,347.69 528.24,352.05 528.41,356.41 528.59,360.77 528.77,365.13 528.96,369.49 529.15,373.85 529.34,378.21 529.54,382.56 529.74,386.92 529.95,391.28 530.16,395.64 530.37,400.00 530.67,405.79 530.97,411.58 531.28,417.37 531.61,423.16 531.94,428.95 532.29,434.74 532.64,440.53 533.02,446.32 533.40,452.11 533.80,457.90 534.21,463.69 534.64,469.48 535.09,475.27 535.56,481.06 536.05,486.85 536.56,492.64 537.10,498.43 537.66,504.22 538.25,510.01 538.87,515.79 539.52,521.58 540.21,527.37 540.94,533.16 541.72,538.95 542.55,544.74 543.43,550.53 544.38,556.32 545.40,562.11 546.50,567.90 547.69,573.69 549.00,579.48 550.43,585.27 552.02,591.06 553.80,596.85 555.80,602.64 558.09,608.43 560.76,614.22 563.91,620.01 567.62,625.00 567.78,620.01 567.94,614.22 568.09,608.43 568.25,602.64 568.42,596.85 568.58,591.06 568.75,585.27 568.92,579.48 569.09,573.69 569.26,567.90 569.43,562.11 569.61,556.32 569.79,550.53 569.98,544.74 570.16,538.95 570.35,533.16 570.54,527.37 570.74,521.58 570.93,515.79 571.13,510.01 571.34,504.22 571.54,498.43 571.75,492.64 571.97,486.85 572.19,481.06 572.41,475.27 572.63,469.48 572.86,463.69 573.09,457.90 573.33,452.11 573.58,446.32 573.82,440.53 574.07,434.74 574.33,428.95 574.59,423.16 574.86,417.37 575.14,411.58 575.42,405.79 575.70,400.00 575.92,395.64 576.15,391.28 576.37,386.92 576.61,382.56 576.84,378.21 577.08,373.85 577.33,369.49 577.58,365.13 577.83,360.77 578.09,356.41 578.36,352.05 578.63,347.69 578.91,343.33 579.19,338.97 579.48,334.62 579.78,330.26 580.08,325.90 580.40,321.54 580.71,317.18 581.04,312.82 581.38,308.46 581.72,304.10 582.08,299.74 582.45,295.38 582.82,291.03 583.21,286.67 583.61,282.31 584.02,277.95 584.45,273.59 584.89,269.23 585.35,264.87 585.82,260.51 586.32,256.15 586.83,251.79 587.37,247.44 587.93,243.08 588.51,238.72 589.12,234.36 589.77,230.00 589.98,228.63 590.19,227.26 590.40,225.89 590.62,224.52 590.85,223.15 591.08,221.78 591.31,220.42 591.55,219.05 591.79,217.68 592.03,216.31 592.28,214.94 592.54,213.57 592.80,212.20 593.06,210.83 593.34,209.46 593.61,208.09 593.90,206.72 594.19,205.35 594.49,203.98 594.79,202.62 595.10,201.25 595.42,199.88 595.75,198.51 596.09,197.14 596.43,195.77 596.79,194.40 597.16,193.03 597.53,191.66 597.92,190.29 598.32,188.92 598.74,187.55 599.16,186.18 599.61,184.82 600.07,183.45 600.54,182.08 601.04,180.71 601.55,179.34 602.09,177.97 602.65,176.60 605.42,169.20 605.81,176.60 605.84,177.97 605.87,179.34 605.90,180.71 605.93,182.08 605.96,183.45 605.99,184.82 606.02,186.18 606.05,187.55 606.08,188.92 606.11,190.29 606.14,191.66 606.17,193.03 606.20,194.40 606.23,195.77 606.26,197.14 606.29,198.51 606.32,199.88 606.35,201.25 606.38,202.62 606.42,203.98 606.45,205.35 606.48,206.72 606.51,208.09 606.54,209.46 606.57,210.83 606.61,212.20 606.64,213.57 606.67,214.94 606.70,216.31 606.74,217.68 606.77,219.05 606.80,220.42 606.84,221.78 606.87,223.15 606.90,224.52 606.94,225.89 606.97,227.26 607.00,228.63 607.04,230.00 607.15,234.36 607.26,238.72 607.37,243.08 607.49,247.44 607.60,251.79 607.72,256.15 607.84,260.51 607.96,264.87 608.08,269.23 608.21,273.59 608.34,277.95 608.47,282.31 608.60,286.67 608.73,291.03 608.87,295.38 609.01,299.74 609.15,304.10 609.29,308.46 609.43,312.82 609.58,317.18 609.73,321.54 609.89,325.90 610.04,330.26 610.20,334.62 610.36,338.97 610.53,343.33 610.70,347.69 610.87,352.05 611.04,356.41 611.22,360.77 611.40,365.13 611.59,369.49 611.78,373.85 611.97,378.21 612.17,382.56 612.37,386.92 612.58,391.28 612.79,395.64 613.00,400.00 613.30,405.79 613.60,411.58 613.91,417.37 614.24,423.16 614.57,428.95 614.92,434.74 615.27,440.53 615.65,446.32 616.03,452.11 616.43,457.90 616.84,463.69 617.27,469.48 617.72,475.27 618.19,481.06 618.68,486.85 619.19,492.64 619.73,498.43 620.29,504.22 620.88,510.01 621.50,515.79 622.15,521.58 622.84,527.37 623.57,533.16 624.35,538.95 625.18,544.74 626.06,550.53 627.01,556.32 628.03,562.11 629.13,567.90 630.32,573.69 631.63,579.48 633.06,585.27 634.65,591.06 636.43,596.85 638.43,602.64 640.72,608.43 643.39,614.22 646.54,620.01 650.25,625.00 650.41,620.01 650.57,614.22 650.72,608.43 650.88,602.64 651.05,596.85 651.21,591.06 651.38,585.27 651.55,579.48 651.72,573.69 651.89,567.90 652.06,562.11 652.24,556.32 652.42,550.53 652.61,544.74 652.79,538.95 652.98,533.16 653.17,527.37 653.37,521.58 653.56,515.79 653.76,510.01 653.97,504.22 654.17,498.43 654.38,492.64 654.60,486.85 654.82,481.06 655.04,475.27 655.26,469.48 655.49,463.69 655.72,457.90 655.96,452.11 656.21,446.32 656.45,440.53 656.70,434.74 656.96,428.95 657.22,423.16 657.49,417.37 657.77,411.58 658.05,405.79 658.33,400.00 658.55,395.64 658.78,391.28 659.00,386.92 659.24,382.56 659.47,378.21 659.71,373.85 659.96,369.49 660.21,365.13 660.46,360.77 660.72,356.41 660.99,352.05 661.26,347.69 661.54,343.33 661.82,338.97 662.11,334.62 662.41,330.26 662.71,325.90 663.03,321.54 663.34,317.18 663.67,312.82 664.01,308.46 664.35,304.10 664.71,299.74 665.08,295.38 665.45,291.03 665.84,286.67 666.24,282.31 666.65,277.95 667.08,273.59 667.52,269.23 667.98,264.87 668.45,260.51 668.95,256.15 669.46,251.79 670.00,247.44 670.56,243.08 671.14,238.72 671.75,234.36 672.40,230.00 672.61,228.63 672.82,227.26 673.03,225.89 673.25,224.52 673.48,223.15 673.71,221.78 673.94,220.42 674.18,219.05 674.42,217.68 674.66,216.31 674.91,214.94 675.17,213.57 675.43,212.20 675.69,210.83 675.97,209.46 676.24,208.09 676.53,206.72 676.82,205.35 677.12,203.98 677.42,202.62 677.73,201.25 678.05,199.88 678.38,198.51 678.72,197.14 679.06,195.77 679.42,194.40 679.79,193.03 680.16,191.66 680.55,190.29 680.95,188.92 681.37,187.55 681.79,186.18 682.24,184.82 682.70,183.45 683.17,182.08 683.67,180.71 684.18,179.34 684.72,177.97 685.28,176.60 688.05,169.20 688.44,176.60 688.47,177.97 688.50,179.34 688.53,180.71 688.56,182.08 688.59,183.45 688.62,184.82 688.65,186.18 688.68,187.55 688.71,188.92 688.74,190.29 688.77,191.66 688.80,193.03 688.83,194.40 688.86,195.77 688.89,197.14 688.92,198.51 688.95,199.88 688.98,201.25 689.01,202.62 689.05,203.98 689.08,205.35 689.11,206.72 689.14,208.09 689.17,209.46 689.20,210.83 689.24,212.20 689.27,213.57 689.30,214.94 689.33,216.31 689.37,217.68 689.40,219.05 689.43,220.42 689.47,221.78 689.50,223.15 689.53,224.52 689.57,225.89 689.60,227.26 689.63,228.63 689.67,230.00 689.78,234.36 689.89,238.72 690.00,243.08 690.12,247.44 690.23,251.79 690.35,256.15 690.47,260.51 690.59,264.87 690.71,269.23 690.84,273.59 690.97,277.95 691.10,282.31 691.23,286.67 691.36,291.03 691.50,295.38 691.64,299.74 691.78,304.10 691.92,308.46 692.06,312.82 692.21,317.18 692.36,321.54 692.52,325.90 692.67,330.26 692.83,334.62 692.99,338.97 693.16,343.33 693.33,347.69 693.50,352.05 693.67,356.41 693.85,360.77 694.03,365.13 694.22,369.49 694.41,373.85 694.60,378.21 694.80,382.56 695.00,386.92 695.21,391.28 695.42,395.64 695.63,400.00 695.93,405.79 696.23,411.58 696.54,417.37 696.87,423.16 697.20,428.95 697.55,434.74 697.90,440.53 698.28,446.32 698.66,452.11 699.06,457.90 699.47,463.69 699.90,469.48 700.35,475.27 700.82,481.06 701.31,486.85 701.82,492.64 702.36,498.43 702.92,504.22 703.51,510.01 704.13,515.79 704.78,521.58 705.47,527.37 706.20,533.16 706.98,538.95 707.81,544.74 708.69,550.53 709.64,556.32 710.66,562.11 711.76,567.90 712.95,573.69 714.26,579.48 715.69,585.27 717.28,591.06 719.06,596.85 721.06,602.64 723.35,608.43 726.02,614.22 729.17,620.01 732.88,625.00 733.04,620.01 733.20,614.22 733.35,608.43 733.51,602.64 733.68,596.85 733.84,591.06 734.01,585.27 734.18,579.48 734.35,573.69 734.52,567.90 734.69,562.11 734.87,556.32 735.05,550.53 735.24,544.74 735.42,538.95 735.61,533.16 735.80,527.37 736.00,521.58 736.19,515.79 736.39,510.01 736.60,504.22 736.80,498.43 737.01,492.64 737.23,486.85 737.45,481.06 737.67,475.27 737.89,469.48 738.12,463.69 738.35,457.90 738.59,452.11 738.84,446.32 739.08,440.53 739.33,434.74 739.59,428.95 739.85,423.16 740.12,417.37 740.40,411.58 740.68,405.79 740.96,400.00 741.18,395.64 741.41,391.28 741.63,386.92 741.87,382.56 742.10,378.21 742.34,373.85 742.59,369.49 742.84,365.13 743.09,360.77 743.35,356.41 743.62,352.05 743.89,347.69 744.17,343.33 744.45,338.97 744.74,334.62 745.04,330.26 745.34,325.90 745.66,321.54 745.97,317.18 746.30,312.82 746.64,308.46 746.98,304.10 747.34,299.74 747.71,295.38 748.08,291.03 748.47,286.67 748.87,282.31 749.28,277.95 749.71,273.59 750.15,269.23 750.61,264.87 751.08,260.51 751.58,256.15 752.09,251.79 752.63,247.44 753.19,243.08 753.77,238.72 754.38,234.36 755.03,230.00 755.24,228.63 755.45,227.26 755.66,225.89 755.88,224.52 756.11,223.15 756.34,221.78 756.57,220.42 756.81,219.05 757.05,217.68 757.29,216.31 757.54,214.94 757.80,213.57 758.06,212.20 758.32,210.83 758.60,209.46 758.87,208.09 759.16,206.72 759.45,205.35 759.75,203.98 760.05,202.62 760.36,201.25 760.68,199.88 761.01,198.51 761.35,197.14 761.69,195.77 762.05,194.40 762.42,193.03 762.79,191.66 763.18,190.29 763.58,188.92 764.00,187.55 764.42,186.18 764.87,184.82 765.33,183.45 765.80,182.08 766.30,180.71 766.81,179.34 767.35,177.97 767.91,176.60 770.68,169.20 771.07,176.60 771.10,177.97 771.13,179.34 771.16,180.71 771.19,182.08 771.22,183.45 771.25,184.82 771.28,186.18 771.31,187.55 771.34,188.92 771.37,190.29 771.40,191.66 771.43,193.03 771.46,194.40 771.49,195.77 771.52,197.14 771.55,198.51 771.58,199.88 771.61,201.25 771.64,202.62 771.68,203.98 771.71,205.35 771.74,206.72 771.77,208.09 771.80,209.46 771.83,210.83 771.87,212.20 771.90,213.57 771.93,214.94 771.96,216.31 772.00,217.68 772.03,219.05 772.06,220.42 772.10,221.78 772.13,223.15 772.16,224.52 772.20,225.89 772.23,227.26 772.26,228.63 772.30,230.00 772.41,234.36 772.52,238.72 772.63,243.08 772.75,247.44 772.86,251.79 772.98,256.15 773.10,260.51 773.22,264.87 773.34,269.23 773.47,273.59 773.60,277.95 773.73,282.31 773.86,286.67 773.99,291.03 774.13,295.38 774.27,299.74 774.41,304.10 774.55,308.46 774.69,312.82 774.84,317.18 774.99,321.54 775.15,325.90 775.30,330.26 775.46,334.62 775.62,338.97 775.79,343.33 775.96,347.69 776.13,352.05 776.30,356.41 776.48,360.77 776.66,365.13 776.85,369.49 777.04,373.85 777.23,378.21 777.43,382.56 777.63,386.92 777.84,391.28 778.05,395.64 778.26,400.00 778.56,405.79 778.86,411.58 779.17,417.37 779.50,423.16 779.83,428.95 780.18,434.74 780.53,440.53 780.91,446.32 781.29,452.11 781.69,457.90 782.10,463.69 782.53,469.48 782.98,475.27 783.45,481.06 783.94,486.85 784.45,492.64 784.99,498.43 785.55,504.22 786.14,510.01 786.76,515.79 787.41,521.58 788.10,527.37 788.83,533.16 789.61,538.95 790.44,544.74 791.32,550.53 792.27,556.32 793.29,562.11 794.39,567.90 795.58,573.69 796.89,579.48 798.32,585.27 799.91,591.06 801.69,596.85 803.69,602.64 805.98,608.43 808.65,614.22 811.80,620.01 815.51,625.00 815.67,620.01 815.83,614.22 815.98,608.43 816.14,602.64 816.31,596.85 816.47,591.06 816.64,585.27 816.81,579.48 816.98,573.69 817.15,567.90 817.32,562.11 817.50,556.32 817.68,550.53 817.87,544.74 818.05,538.95 818.24,533.16 818.43,527.37 818.63,521.58 818.82,515.79 819.02,510.01 819.23,504.22 819.43,498.43 819.64,492.64 819.86,486.85 820.08,481.06 820.30,475.27 820.52,469.48 820.75,463.69 820.98,457.90 821.22,452.11 821.47,446.32 821.71,440.53 821.96,434.74 822.22,428.95 822.48,423.16 822.75,417.37 823.03,411.58 823.31,405.79 823.59,400.00 823.81,395.64 824.04,391.28 824.26,386.92 824.50,382.56 824.73,378.21 824.97,373.85 825.22,369.49 825.47,365.13 825.72,360.77 825.98,356.41 826.25,352.05 826.52,347.69 826.80,343.33 827.08,338.97 827.37,334.62 827.67,330.26 827.97,325.90 828.29,321.54 828.60,317.18 828.93,312.82 829.27,308.46 829.61,304.10 829.97,299.74 830.34,295.38 830.71,291.03 831.10,286.67 831.50,282.31 831.91,277.95 832.34,273.59 832.78,269.23 833.24,264.87 833.71,260.51 834.21,256.15 834.72,251.79 835.26,247.44 835.82,243.08 836.40,238.72 837.01,234.36 837.66,230.00 837.87,228.63 838.08,227.26 838.29,225.89 838.51,224.52 838.74,223.15 838.97,221.78 839.20,220.42 839.44,219.05 839.68,217.68 839.92,216.31 840.17,214.94 840.43,213.57 840.69,212.20 840.95,210.83 841.23,209.46 841.50,208.09 841.79,206.72 842.08,205.35 842.38,203.98 842.68,202.62 842.99,201.25 843.31,199.88 843.64,198.51 843.98,197.14 844.32,195.77 844.68,194.40 845.05,193.03 845.42,191.66 845.81,190.29 846.21,188.92 846.63,187.55 847.05,186.18 847.50,184.82 847.96,183.45 848.43,182.08 848.93,180.71 849.44,179.34 849.98,177.97 850.54,176.60 853.31,169.20 853.70,176.60 853.73,177.97 853.76,179.34 853.79,180.71 853.82,182.08 853.85,183.45 853.88,184.82 853.91,186.18 853.94,187.55 853.97,188.92 854.00,190.29 854.03,191.66 854.06,193.03 854.09,194.40 854.12,195.77 854.15,197.14 854.18,198.51 854.21,199.88 854.24,201.25 854.27,202.62 854.31,203.98 854.34,205.35 854.37,206.72 854.40,208.09 854.43,209.46 854.46,210.83 854.50,212.20 854.53,213.57 854.56,214.94 854.59,216.31 854.63,217.68 854.66,219.05 854.69,220.42 854.73,221.78 854.76,223.15 854.79,224.52 854.83,225.89 854.86,227.26 854.89,228.63 854.93,230.00 855.04,234.36 855.15,238.72 855.26,243.08 855.38,247.44 855.49,251.79 855.61,256.15 855.73,260.51 855.85,264.87 855.97,269.23 856.10,273.59 856.23,277.95 856.36,282.31 856.49,286.67 856.62,291.03 856.76,295.38 856.90,299.74 857.04,304.10 857.18,308.46 857.32,312.82 857.47,317.18 857.62,321.54 857.78,325.90 857.93,330.26 858.09,334.62 858.25,338.97 858.42,343.33 858.59,347.69 858.76,352.05 858.93,356.41 859.11,360.77 859.29,365.13 859.48,369.49 859.67,373.85 859.86,378.21 860.06,382.56 860.26,386.92 860.47,391.28 860.68,395.64 860.89,400.00 861.19,405.79 861.49,411.58 861.80,417.37 862.13,423.16 862.46,428.95 862.81,434.74 863.16,440.53 863.54,446.32 863.92,452.11 864.32,457.90 864.73,463.69 865.16,469.48 865.61,475.27 866.08,481.06 866.57,486.85 867.08,492.64 867.62,498.43 868.18,504.22 868.77,510.01 869.39,515.79 870.04,521.58 870.73,527.37 871.46,533.16 872.24,538.95 873.07,544.74 873.95,550.53 874.90,556.32 875.92,562.11 877.02,567.90 878.21,573.69 879.52,579.48 880.95,585.27 882.54,591.06 884.32,596.85 886.32,602.64 888.61,608.43 891.28,614.22 894.43,620.01 898.14,625.00 898.30,620.01 898.46,614.22 898.61,608.43 898.77,602.64 898.94,596.85 899.10,591.06 899.27,585.27 899.44,579.48 899.61,573.69 899.78,567.90 899.95,562.11 900.13,556.32 900.31,550.53 900.50,544.74 900.68,538.95 900.87,533.16 901.06,527.37 901.26,521.58 901.45,515.79 901.65,510.01 901.86,504.22 902.06,498.43 902.27,492.64 902.49,486.85 902.71,481.06 902.93,475.27 903.15,469.48 903.38,463.69 903.61,457.90 903.85,452.11 904.10,446.32 904.34,440.53 904.59,434.74 904.85,428.95 905.11,423.16 905.38,417.37 905.66,411.58 905.94,405.79 906.22,400.00 906.44,395.64 906.67,391.28 906.89,386.92 907.13,382.56 907.36,378.21 907.60,373.85 907.85,369.49 908.10,365.13 908.35,360.77 908.61,356.41 908.88,352.05 909.15,347.69 909.43,343.33 909.71,338.97 910.00,334.62 910.30,330.26 910.60,325.90 910.92,321.54 911.23,317.18 911.56,312.82 911.90,308.46 912.24,304.10 912.60,299.74 912.97,295.38 913.34,291.03 913.73,286.67 914.13,282.31 914.54,277.95 914.97,273.59 915.41,269.23 915.87,264.87 916.34,260.51 916.84,256.15 917.35,251.79 917.89,247.44 918.45,243.08 919.03,238.72 919.64,234.36 920.29,230.00 920.50,228.63 920.71,227.26 920.92,225.89 921.14,224.52 921.37,223.15 921.60,221.78 921.83,220.42 922.07,219.05 922.31,217.68 922.55,216.31 922.80,214.94 923.06,213.57 923.32,212.20 923.58,210.83 923.86,209.46 924.13,208.09 924.42,206.72 924.71,205.35 925.01,203.98 925.31,202.62 925.62,201.25 925.94,199.88 926.27,198.51 926.61,197.14 926.95,195.77 927.31,194.40 927.68,193.03 928.05,191.66 928.44,190.29 928.84,188.92 929.26,187.55 929.68,186.18 930.13,184.82 930.59,183.45 931.06,182.08 931.56,180.71 932.07,179.34 932.61,177.97 933.17,176.60 935.94,169.20 936.33,176.60 936.36,177.97 936.39,179.34 936.42,180.71 936.45,182.08 936.48,183.45 936.51,184.82 936.54,186.18 936.57,187.55 936.60,188.92 936.63,190.29 936.66,191.66 936.69,193.03 936.72,194.40 936.75,195.77 936.78,197.14 936.81,198.51 936.84,199.88 936.87,201.25 936.90,202.62 936.94,203.98 936.97,205.35 937.00,206.72 937.03,208.09 937.06,209.46 937.09,210.83 937.13,212.20 937.16,213.57 937.19,214.94 937.22,216.31 937.26,217.68 937.29,219.05 937.32,220.42 937.36,221.78 937.39,223.15 937.42,224.52 937.46,225.89 937.49,227.26 937.52,228.63 937.56,230.00 937.67,234.36 937.78,238.72 937.89,243.08 938.01,247.44 938.12,251.79 938.24,256.15 938.36,260.51 938.48,264.87 938.60,269.23 938.73,273.59 938.86,277.95 938.99,282.31 939.12,286.67 939.25,291.03 939.39,295.38 939.53,299.74 939.67,304.10 939.81,308.46 939.95,312.82 940.10,317.18 940.25,321.54 940.41,325.90 940.56,330.26 940.72,334.62 940.88,338.97 941.05,343.33 941.22,347.69 941.39,352.05 941.56,356.41 941.74,360.77 941.92,365.13 942.11,369.49 942.30,373.85 942.49,378.21 942.69,382.56 942.89,386.92 943.10,391.28 943.31,395.64 943.52,400.00 943.82,405.79 944.12,411.58 944.43,417.37 944.76,423.16 945.09,428.95 945.44,434.74 945.79,440.53 946.17,446.32 946.55,452.11 946.95,457.90 947.36,463.69 947.79,469.48 948.24,475.27 948.71,481.06 949.20,486.85 949.71,492.64 950.25,498.43 950.81,504.22 951.40,510.01 952.02,515.79 952.67,521.58 953.36,527.37 954.09,533.16 954.87,538.95 955.70,544.74 956.58,550.53 957.53,556.32 958.55,562.11 959.65,567.90 960.84,573.69 962.15,579.48 963.58,585.27 965.17,591.06 966.95,596.85 968.95,602.64 971.24,608.43 973.91,614.22 977.06,620.01 980.77,625.00" fill="none" stroke="#08b4ec" stroke-width="4.07" stroke-linejoin="round" stroke-linecap="square"/>
<rect x="116.1" y="3.0" width="905.8" height="674.7" fill="none" stroke="#000" stroke-width="1.63"/>
<line x1="157.35" y1="677.7" x2="157.35" y2="684.8000000000001" stroke="#000" stroke-width="1.63"/>
<text x="157.35" y="722.5" text-anchor="middle" class="tk">0</text>
<line x1="290.50" y1="677.7" x2="290.50" y2="684.8000000000001" stroke="#000" stroke-width="1.63"/>
<text x="290.50" y="722.5" text-anchor="middle" class="tk">50</text>
<line x1="423.65" y1="677.7" x2="423.65" y2="684.8000000000001" stroke="#000" stroke-width="1.63"/>
<text x="423.65" y="722.5" text-anchor="middle" class="tk">100</text>
<line x1="556.80" y1="677.7" x2="556.80" y2="684.8000000000001" stroke="#000" stroke-width="1.63"/>
<text x="556.80" y="722.5" text-anchor="middle" class="tk">150</text>
<line x1="689.95" y1="677.7" x2="689.95" y2="684.8000000000001" stroke="#000" stroke-width="1.63"/>
<text x="689.95" y="722.5" text-anchor="middle" class="tk">200</text>
<line x1="823.10" y1="677.7" x2="823.10" y2="684.8000000000001" stroke="#000" stroke-width="1.63"/>
<text x="823.10" y="722.5" text-anchor="middle" class="tk">250</text>
<line x1="956.25" y1="677.7" x2="956.25" y2="684.8000000000001" stroke="#000" stroke-width="1.63"/>
<text x="956.25" y="722.5" text-anchor="middle" class="tk">300</text>
<line x1="109.00" y1="625.80" x2="116.1" y2="625.80" stroke="#000" stroke-width="1.63"/>
<text x="102.7" y="642.10" text-anchor="end" class="tk">35</text>
<line x1="109.00" y1="496.05" x2="116.1" y2="496.05" stroke="#000" stroke-width="1.63"/>
<text x="102.7" y="512.35" text-anchor="end" class="tk">45</text>
<line x1="109.00" y1="366.30" x2="116.1" y2="366.30" stroke="#000" stroke-width="1.63"/>
<text x="102.7" y="382.60" text-anchor="end" class="tk">55</text>
<line x1="109.00" y1="236.55" x2="116.1" y2="236.55" stroke="#000" stroke-width="1.63"/>
<text x="102.7" y="252.85" text-anchor="end" class="tk">65</text>
<line x1="109.00" y1="106.80" x2="116.1" y2="106.80" stroke="#000" stroke-width="1.63"/>
<text x="102.7" y="123.10" text-anchor="end" class="tk">75</text>
<text x="569" y="770" text-anchor="middle" class="lb">Time (s)</text>
<text transform="translate(32.5,340.5) rotate(-90)" x="0" y="0" text-anchor="middle" class="lb">Temperature (°C)</text>
<rect x="401.1" y="21.3" width="602.2" height="118.1" rx="4.5" ry="4.5" fill="#fff" fill-opacity="0.8" stroke="#d6d6d6" stroke-width="1.63"/>
<line x1="413.7" y1="50.5" x2="491.0" y2="50.5" stroke="#000080" stroke-width="4.07"/>
<line x1="413.7" y1="104.6" x2="491.0" y2="104.6" stroke="#08b4ec" stroke-width="4.07"/>
<text x="518.2" y="63.6" class="lg">Model with latent heat</text>
<text x="518.2" y="116.8" class="lg">Model without latent heat</text>
</svg>
</body></html>
